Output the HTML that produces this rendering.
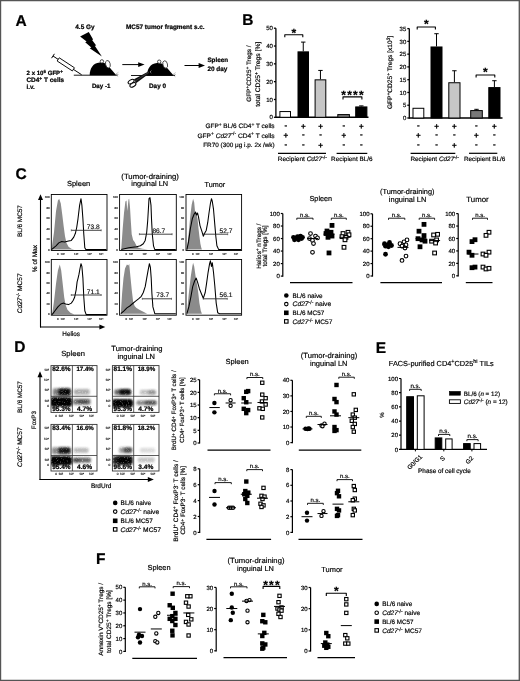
<!DOCTYPE html><html><head><meta charset="utf-8"><style>html,body{margin:0;padding:0;background:#fff;}svg{display:block;filter:blur(0.35px);font-family:"Liberation Sans",Arial,sans-serif;text-rendering:geometricPrecision;}</style></head><body><svg width="520" height="681" viewBox="0 0 520 681">
<defs><filter id="b1" x="-50%" y="-50%" width="200%" height="200%"><feGaussianBlur stdDeviation="1.0"></feGaussianBlur></filter><filter id="grain" x="-10%" y="-10%" width="120%" height="120%" color-interpolation-filters="sRGB"><feTurbulence type="fractalNoise" baseFrequency="0.8" numOctaves="2" seed="4" result="t"></feTurbulence><feColorMatrix in="t" type="matrix" values="0 0 0 0 0  0 0 0 0 0  0 0 0 0 0  1.8 0 0 0 0.22" result="m"></feColorMatrix><feComposite in="SourceGraphic" in2="m" operator="arithmetic" k1="1" k2="0" k3="0" k4="0" result="c"></feComposite><feComponentTransfer in="c"><feFuncA type="gamma" amplitude="1" exponent="0.85" offset="0"></feFuncA></feComponentTransfer></filter></defs>
<rect width="520" height="681" fill="#fff"></rect>
<text x="15.40" y="25.50" font-size="15.5" font-weight="bold" stroke="#000" stroke-width="0.22">A</text>
<text x="75.30" y="29.00" font-size="6.40" font-weight="bold" stroke="#000" stroke-width="0.22" textLength="19.20" lengthAdjust="spacingAndGlyphs">4.5 Gy</text>
<text x="126.00" y="29.00" font-size="6.41" font-weight="bold" stroke="#000" stroke-width="0.22" textLength="78.60" lengthAdjust="spacingAndGlyphs">MC57 tumor fragment s.c.</text>
<polygon points="80.10,36.50 88.80,32.00 93.10,39.60 92.10,39.90 96.20,45.40 94.80,45.70 101.90,56.60 89.70,48.20 91.30,47.40 85.20,42.30 86.60,41.50" fill="#000" stroke="none" stroke-width="0" stroke-linejoin="round"></polygon>
<g transform="translate(53.0 56.0) rotate(33.2)">
<line x1="0.00" y1="-2.60" x2="0.00" y2="2.60" stroke="#000" stroke-width="0.9"></line>
<line x1="0.00" y1="0.00" x2="6.20" y2="0.00" stroke="#000" stroke-width="0.9"></line>
<rect x="6.20" y="-1.90" width="18.20" height="3.80" fill="#fff" stroke="#000" stroke-width="0.85"></rect>
<line x1="24.40" y1="0.00" x2="34.20" y2="0.00" stroke="#000" stroke-width="0.9"></line>
</g>
<line x1="73.80" y1="75.20" x2="117.60" y2="75.20" stroke="#000" stroke-width="0.9"></line>
<path d="M89.70,75.20 C89.70,69.20 92.70,63.00 99.70,62.60 C103.70,62.40 106.20,63.60 107.70,65.20 L116.30,75.20 Z" fill="#000"></path>
<circle cx="101.90" cy="61.40" r="1.7" fill="#fff" stroke="#222" stroke-width="0.8"></circle>
<ellipse cx="107.90" cy="64.20" rx="2.3" ry="3.8" transform="rotate(-14 107.90 64.20)" fill="#fff" stroke="#333" stroke-width="0.8"></ellipse>
<line x1="115.70" y1="74.20" x2="118.50" y2="72.20" stroke="#777" stroke-width="0.4"></line>
<line x1="115.70" y1="74.40" x2="118.70" y2="74.40" stroke="#777" stroke-width="0.4"></line>
<line x1="115.70" y1="74.60" x2="118.20" y2="76.60" stroke="#777" stroke-width="0.4"></line>
<text x="26.60" y="74.50" font-size="6.11" font-weight="bold" stroke="#000" stroke-width="0.22" textLength="36.20" lengthAdjust="spacingAndGlyphs">2 x 10<tspan dy="-0.42em" font-size="75%">6</tspan><tspan dy="0.315em"> GFP<tspan dy="-0.42em" font-size="75%">+</tspan><tspan dy="0.315em"></tspan></tspan></text>
<text x="26.40" y="82.40" font-size="6.42" font-weight="bold" stroke="#000" stroke-width="0.22" textLength="37.80" lengthAdjust="spacingAndGlyphs">CD4<tspan dy="-0.42em" font-size="75%">+</tspan><tspan dy="0.315em"> T cells</tspan></text>
<text x="26.60" y="89.40" font-size="6.2" font-weight="bold" stroke="#000" stroke-width="0.22">i.v.</text>
<text x="91.90" y="88.40" font-size="6.24" font-weight="bold" stroke="#000" stroke-width="0.22" textLength="18.50" lengthAdjust="spacingAndGlyphs">Day -1</text>
<line x1="122.30" y1="64.60" x2="139.00" y2="64.60" stroke="#000" stroke-width="1.0"></line>
<polygon points="138.20,62.20 144.60,64.60 138.20,67.00" fill="#000" stroke="none" stroke-width="0" stroke-linejoin="round"></polygon>
<line x1="131.00" y1="75.50" x2="175.00" y2="75.50" stroke="#000" stroke-width="0.9"></line>
<path d="M147.00,75.50 C147.00,69.50 150.00,63.30 157.00,62.90 C161.00,62.70 163.50,63.90 165.00,65.50 L173.60,75.50 Z" fill="#000"></path>
<circle cx="159.20" cy="61.70" r="1.7" fill="#fff" stroke="#222" stroke-width="0.8"></circle>
<ellipse cx="165.20" cy="64.50" rx="2.3" ry="3.8" transform="rotate(-14 165.20 64.50)" fill="#fff" stroke="#333" stroke-width="0.8"></ellipse>
<line x1="173.00" y1="74.50" x2="175.80" y2="72.50" stroke="#777" stroke-width="0.4"></line>
<line x1="173.00" y1="74.70" x2="176.00" y2="74.70" stroke="#777" stroke-width="0.4"></line>
<line x1="173.00" y1="74.90" x2="175.50" y2="76.90" stroke="#777" stroke-width="0.4"></line>
<polygon points="134.00,79.20 148.80,71.20 149.20,73.60 136.00,83.20" fill="#111" stroke="none" stroke-width="0" stroke-linejoin="round"></polygon>
<line x1="135.00" y1="81.20" x2="148.60" y2="72.40" stroke="#888" stroke-width="0.35"></line>
<ellipse cx="131.1" cy="81.7" rx="3.3" ry="1.8" transform="rotate(-30 131.1 81.7)" fill="#fff" stroke="#000" stroke-width="1.0"></ellipse>
<ellipse cx="132.9" cy="84.9" rx="3.3" ry="1.8" transform="rotate(-30 132.9 84.9)" fill="#fff" stroke="#000" stroke-width="1.0"></ellipse>
<path d="M151.3,70.6 L150.1,71.9 L151.3,73.0" fill="none" stroke="#ddd" stroke-width="0.6"></path>
<text x="149.00" y="88.00" font-size="6.40" font-weight="bold" stroke="#000" stroke-width="0.22" textLength="17.00" lengthAdjust="spacingAndGlyphs">Day 0</text>
<line x1="184.50" y1="65.50" x2="199.50" y2="65.50" stroke="#000" stroke-width="1.0"></line>
<polygon points="198.60,63.10 205.00,65.50 198.60,67.90" fill="#000" stroke="none" stroke-width="0" stroke-linejoin="round"></polygon>
<text x="207.40" y="62.40" font-size="6.32" font-weight="bold" stroke="#000" stroke-width="0.22" textLength="20.60" lengthAdjust="spacingAndGlyphs">Spleen</text>
<text x="207.40" y="70.60" font-size="6.42" font-weight="bold" stroke="#000" stroke-width="0.22" textLength="20.00" lengthAdjust="spacingAndGlyphs">20 day</text>
<text x="242.30" y="25.40" font-size="15.5" font-weight="bold" stroke="#000" stroke-width="0.22">B</text>
<line x1="275.90" y1="28.20" x2="275.90" y2="117.95" stroke="#000" stroke-width="1.3"></line>
<line x1="273.90" y1="117.30" x2="275.90" y2="117.30" stroke="#000" stroke-width="1.3"></line>
<text x="272.90" y="119.46" font-size="6.0" text-anchor="end" stroke="#000" stroke-width="0.18">0</text>
<line x1="273.90" y1="99.48" x2="275.90" y2="99.48" stroke="#000" stroke-width="1.3"></line>
<text x="272.90" y="101.64" font-size="6.0" text-anchor="end" stroke="#000" stroke-width="0.18">10</text>
<line x1="273.90" y1="81.66" x2="275.90" y2="81.66" stroke="#000" stroke-width="1.3"></line>
<text x="272.90" y="83.82" font-size="6.0" text-anchor="end" stroke="#000" stroke-width="0.18">20</text>
<line x1="273.90" y1="63.84" x2="275.90" y2="63.84" stroke="#000" stroke-width="1.3"></line>
<text x="272.90" y="66.00" font-size="6.0" text-anchor="end" stroke="#000" stroke-width="0.18">30</text>
<line x1="273.90" y1="46.02" x2="275.90" y2="46.02" stroke="#000" stroke-width="1.3"></line>
<text x="272.90" y="48.18" font-size="6.0" text-anchor="end" stroke="#000" stroke-width="0.18">40</text>
<line x1="273.90" y1="28.20" x2="275.90" y2="28.20" stroke="#000" stroke-width="1.3"></line>
<text x="272.90" y="30.36" font-size="6.0" text-anchor="end" stroke="#000" stroke-width="0.18">50</text>
<line x1="275.90" y1="117.30" x2="368.50" y2="117.30" stroke="#000" stroke-width="1.4"></line>
<rect x="279.90" y="111.56" width="10.60" height="5.74" fill="#fff" stroke="#000" stroke-width="1.0"></rect>
<line x1="303.25" y1="42.10" x2="303.25" y2="51.37" stroke="#000" stroke-width="1.0"></line>
<line x1="301.05" y1="42.10" x2="305.45" y2="42.10" stroke="#000" stroke-width="1.0"></line>
<rect x="298.00" y="51.87" width="10.50" height="65.43" fill="#000" stroke="#000" stroke-width="1.0"></rect>
<line x1="320.45" y1="70.43" x2="320.45" y2="79.34" stroke="#000" stroke-width="1.0"></line>
<line x1="318.25" y1="70.43" x2="322.65" y2="70.43" stroke="#000" stroke-width="1.0"></line>
<rect x="315.10" y="79.84" width="10.70" height="37.46" fill="#c6c6c6" stroke="#000" stroke-width="1.0"></rect>
<rect x="337.80" y="114.59" width="11.60" height="2.71" fill="#767676" stroke="#000" stroke-width="1.0"></rect>
<line x1="361.30" y1="105.90" x2="361.30" y2="106.43" stroke="#000" stroke-width="1.0"></line>
<line x1="359.10" y1="105.90" x2="363.50" y2="105.90" stroke="#000" stroke-width="1.0"></line>
<rect x="355.70" y="106.93" width="11.20" height="10.37" fill="#000" stroke="#000" stroke-width="1.0"></rect>
<polyline points="284.80,37.30 284.80,34.70 302.80,34.70 302.80,37.30" fill="none" stroke="#000" stroke-width="1.1" stroke-linejoin="round"></polyline>
<text x="293.80" y="36.80" font-size="12.0" font-weight="bold" text-anchor="middle" stroke="#000" stroke-width="0.22">*</text>
<polyline points="343.00,99.50 343.00,96.90 361.90,96.90 361.90,99.50" fill="none" stroke="#000" stroke-width="1.1" stroke-linejoin="round"></polyline>
<text x="343.60" y="98.50" font-size="12.0" font-weight="bold" text-anchor="middle" stroke="#000" stroke-width="0.22">*</text>
<text x="349.50" y="98.50" font-size="12.0" font-weight="bold" text-anchor="middle" stroke="#000" stroke-width="0.22">*</text>
<text x="355.40" y="98.50" font-size="12.0" font-weight="bold" text-anchor="middle" stroke="#000" stroke-width="0.22">*</text>
<text x="361.30" y="98.50" font-size="12.0" font-weight="bold" text-anchor="middle" stroke="#000" stroke-width="0.22">*</text>
<text x="251.00" y="73.60" font-size="6.28" text-anchor="middle" stroke="#000" stroke-width="0.18" textLength="56.30" lengthAdjust="spacingAndGlyphs" transform="rotate(-90 251.00 73.60)">GFP<tspan dy="-0.42em" font-size="75%">+</tspan><tspan dy="0.315em">CD25<tspan dy="-0.42em" font-size="75%">+</tspan><tspan dy="0.315em"> Tregs /</tspan></tspan></text>
<text x="259.70" y="74.30" font-size="6.54" text-anchor="middle" stroke="#000" stroke-width="0.18" textLength="65.10" lengthAdjust="spacingAndGlyphs" transform="rotate(-90 259.70 74.30)">total CD25<tspan dy="-0.42em" font-size="75%">+</tspan><tspan dy="0.315em"> Tregs [%]</tspan></text>
<text x="285.80" y="128.40" font-size="8.0" font-weight="bold" text-anchor="middle" stroke="#000" stroke-width="0.22">-</text>
<text x="303.30" y="128.95" font-size="8.0" font-weight="bold" text-anchor="middle" stroke="#000" stroke-width="0.22">+</text>
<text x="320.60" y="128.95" font-size="8.0" font-weight="bold" text-anchor="middle" stroke="#000" stroke-width="0.22">+</text>
<text x="343.80" y="128.40" font-size="8.0" font-weight="bold" text-anchor="middle" stroke="#000" stroke-width="0.22">-</text>
<text x="361.30" y="128.95" font-size="8.0" font-weight="bold" text-anchor="middle" stroke="#000" stroke-width="0.22">+</text>
<text x="285.80" y="137.95" font-size="8.0" font-weight="bold" text-anchor="middle" stroke="#000" stroke-width="0.22">+</text>
<text x="303.30" y="137.40" font-size="8.0" font-weight="bold" text-anchor="middle" stroke="#000" stroke-width="0.22">-</text>
<text x="320.60" y="137.40" font-size="8.0" font-weight="bold" text-anchor="middle" stroke="#000" stroke-width="0.22">-</text>
<text x="343.80" y="137.95" font-size="8.0" font-weight="bold" text-anchor="middle" stroke="#000" stroke-width="0.22">+</text>
<text x="361.30" y="137.40" font-size="8.0" font-weight="bold" text-anchor="middle" stroke="#000" stroke-width="0.22">-</text>
<text x="285.80" y="147.00" font-size="8.0" font-weight="bold" text-anchor="middle" stroke="#000" stroke-width="0.22">-</text>
<text x="303.30" y="147.00" font-size="8.0" font-weight="bold" text-anchor="middle" stroke="#000" stroke-width="0.22">-</text>
<text x="320.60" y="147.55" font-size="8.0" font-weight="bold" text-anchor="middle" stroke="#000" stroke-width="0.22">+</text>
<text x="343.80" y="147.00" font-size="8.0" font-weight="bold" text-anchor="middle" stroke="#000" stroke-width="0.22">-</text>
<text x="361.30" y="147.00" font-size="8.0" font-weight="bold" text-anchor="middle" stroke="#000" stroke-width="0.22">-</text>
<text x="274.60" y="128.00" font-size="6.35" text-anchor="end" stroke="#000" stroke-width="0.18" textLength="69.20" lengthAdjust="spacingAndGlyphs">GFP<tspan dy="-0.42em" font-size="75%">+</tspan><tspan dy="0.315em"> BL/6 CD4<tspan dy="-0.42em" font-size="75%">+</tspan><tspan dy="0.315em"> T cells</tspan></tspan></text>
<text x="274.60" y="137.50" font-size="6.43" text-anchor="end" stroke="#000" stroke-width="0.18" textLength="77.20" lengthAdjust="spacingAndGlyphs">GFP<tspan dy="-0.42em" font-size="75%">+</tspan><tspan dy="0.315em"> <tspan font-style="italic">Cd27</tspan><tspan dy="-0.42em" font-size="75%">-/-</tspan><tspan dy="0.315em"> CD4<tspan dy="-0.42em" font-size="75%">+</tspan><tspan dy="0.315em"> T cells</tspan></tspan></tspan></text>
<text x="274.60" y="147.00" font-size="6.28" text-anchor="end" stroke="#000" stroke-width="0.18" textLength="71.40" lengthAdjust="spacingAndGlyphs">FR70 (300 μg i.p. 2x /wk)</text>
<line x1="278.00" y1="153.40" x2="326.00" y2="153.40" stroke="#000" stroke-width="1.2"></line>
<line x1="336.60" y1="153.40" x2="367.30" y2="153.40" stroke="#000" stroke-width="1.2"></line>
<text x="277.80" y="160.90" font-size="6.37" stroke="#000" stroke-width="0.18" textLength="49.00" lengthAdjust="spacingAndGlyphs">Recipient <tspan font-style="italic">Cd27</tspan><tspan dy="-0.42em" font-size="75%">-/-</tspan><tspan dy="0.315em"></tspan></text>
<text x="331.10" y="160.90" font-size="6.28" stroke="#000" stroke-width="0.18" textLength="41.50" lengthAdjust="spacingAndGlyphs">Recipient BL/6</text>
<line x1="409.30" y1="28.60" x2="409.30" y2="118.65" stroke="#000" stroke-width="1.3"></line>
<line x1="407.30" y1="118.00" x2="409.30" y2="118.00" stroke="#000" stroke-width="1.3"></line>
<text x="406.30" y="120.16" font-size="6.0" text-anchor="end" stroke="#000" stroke-width="0.18">0</text>
<line x1="407.30" y1="105.23" x2="409.30" y2="105.23" stroke="#000" stroke-width="1.3"></line>
<text x="406.30" y="107.39" font-size="6.0" text-anchor="end" stroke="#000" stroke-width="0.18">5</text>
<line x1="407.30" y1="92.46" x2="409.30" y2="92.46" stroke="#000" stroke-width="1.3"></line>
<text x="406.30" y="94.62" font-size="6.0" text-anchor="end" stroke="#000" stroke-width="0.18">10</text>
<line x1="407.30" y1="79.69" x2="409.30" y2="79.69" stroke="#000" stroke-width="1.3"></line>
<text x="406.30" y="81.85" font-size="6.0" text-anchor="end" stroke="#000" stroke-width="0.18">15</text>
<line x1="407.30" y1="66.91" x2="409.30" y2="66.91" stroke="#000" stroke-width="1.3"></line>
<text x="406.30" y="69.07" font-size="6.0" text-anchor="end" stroke="#000" stroke-width="0.18">20</text>
<line x1="407.30" y1="54.14" x2="409.30" y2="54.14" stroke="#000" stroke-width="1.3"></line>
<text x="406.30" y="56.30" font-size="6.0" text-anchor="end" stroke="#000" stroke-width="0.18">25</text>
<line x1="407.30" y1="41.37" x2="409.30" y2="41.37" stroke="#000" stroke-width="1.3"></line>
<text x="406.30" y="43.53" font-size="6.0" text-anchor="end" stroke="#000" stroke-width="0.18">30</text>
<line x1="407.30" y1="28.60" x2="409.30" y2="28.60" stroke="#000" stroke-width="1.3"></line>
<text x="406.30" y="30.76" font-size="6.0" text-anchor="end" stroke="#000" stroke-width="0.18">35</text>
<line x1="409.30" y1="118.00" x2="502.50" y2="118.00" stroke="#000" stroke-width="1.4"></line>
<rect x="413.00" y="108.28" width="10.80" height="9.72" fill="#fff" stroke="#000" stroke-width="1.0"></rect>
<line x1="436.50" y1="33.71" x2="436.50" y2="46.48" stroke="#000" stroke-width="1.0"></line>
<line x1="434.30" y1="33.71" x2="438.70" y2="33.71" stroke="#000" stroke-width="1.0"></line>
<rect x="431.00" y="46.98" width="11.00" height="71.02" fill="#000" stroke="#000" stroke-width="1.0"></rect>
<line x1="454.40" y1="70.75" x2="454.40" y2="82.24" stroke="#000" stroke-width="1.0"></line>
<line x1="452.20" y1="70.75" x2="456.60" y2="70.75" stroke="#000" stroke-width="1.0"></line>
<rect x="448.80" y="82.74" width="11.20" height="35.26" fill="#c6c6c6" stroke="#000" stroke-width="1.0"></rect>
<line x1="476.50" y1="109.32" x2="476.50" y2="110.08" stroke="#000" stroke-width="1.0"></line>
<line x1="474.30" y1="109.32" x2="478.70" y2="109.32" stroke="#000" stroke-width="1.0"></line>
<rect x="470.70" y="110.58" width="11.60" height="7.42" fill="#787878" stroke="#000" stroke-width="1.0"></rect>
<line x1="494.40" y1="80.71" x2="494.40" y2="87.09" stroke="#000" stroke-width="1.0"></line>
<line x1="492.20" y1="80.71" x2="496.60" y2="80.71" stroke="#000" stroke-width="1.0"></line>
<rect x="488.80" y="87.59" width="11.20" height="30.41" fill="#000" stroke="#000" stroke-width="1.0"></rect>
<polyline points="417.20,29.60 417.20,27.00 435.40,27.00 435.40,29.60" fill="none" stroke="#000" stroke-width="1.1" stroke-linejoin="round"></polyline>
<text x="426.30" y="28.40" font-size="12.0" font-weight="bold" text-anchor="middle" stroke="#000" stroke-width="0.22">*</text>
<polyline points="476.10,77.60 476.10,75.00 494.80,75.00 494.80,77.60" fill="none" stroke="#000" stroke-width="1.1" stroke-linejoin="round"></polyline>
<text x="485.45" y="76.40" font-size="12.0" font-weight="bold" text-anchor="middle" stroke="#000" stroke-width="0.22">*</text>
<text x="392.50" y="72.40" font-size="6.43" text-anchor="middle" stroke="#000" stroke-width="0.18" textLength="73.30" lengthAdjust="spacingAndGlyphs" transform="rotate(-90 392.50 72.40)">GFP<tspan dy="-0.42em" font-size="75%">+</tspan><tspan dy="0.315em">CD25<tspan dy="-0.42em" font-size="75%">+</tspan><tspan dy="0.315em"> Tregs [x10<tspan dy="-0.42em" font-size="75%">3</tspan><tspan dy="0.315em">]</tspan></tspan></tspan></text>
<text x="418.40" y="128.40" font-size="8.0" font-weight="bold" text-anchor="middle" stroke="#000" stroke-width="0.22">-</text>
<text x="436.50" y="128.95" font-size="8.0" font-weight="bold" text-anchor="middle" stroke="#000" stroke-width="0.22">+</text>
<text x="454.40" y="128.95" font-size="8.0" font-weight="bold" text-anchor="middle" stroke="#000" stroke-width="0.22">+</text>
<text x="476.30" y="128.40" font-size="8.0" font-weight="bold" text-anchor="middle" stroke="#000" stroke-width="0.22">-</text>
<text x="494.40" y="128.95" font-size="8.0" font-weight="bold" text-anchor="middle" stroke="#000" stroke-width="0.22">+</text>
<text x="418.40" y="137.95" font-size="8.0" font-weight="bold" text-anchor="middle" stroke="#000" stroke-width="0.22">+</text>
<text x="436.50" y="137.40" font-size="8.0" font-weight="bold" text-anchor="middle" stroke="#000" stroke-width="0.22">-</text>
<text x="454.40" y="137.40" font-size="8.0" font-weight="bold" text-anchor="middle" stroke="#000" stroke-width="0.22">-</text>
<text x="476.30" y="137.95" font-size="8.0" font-weight="bold" text-anchor="middle" stroke="#000" stroke-width="0.22">+</text>
<text x="494.40" y="137.40" font-size="8.0" font-weight="bold" text-anchor="middle" stroke="#000" stroke-width="0.22">-</text>
<text x="418.40" y="147.00" font-size="8.0" font-weight="bold" text-anchor="middle" stroke="#000" stroke-width="0.22">-</text>
<text x="436.50" y="147.00" font-size="8.0" font-weight="bold" text-anchor="middle" stroke="#000" stroke-width="0.22">-</text>
<text x="454.40" y="147.55" font-size="8.0" font-weight="bold" text-anchor="middle" stroke="#000" stroke-width="0.22">+</text>
<text x="476.30" y="147.00" font-size="8.0" font-weight="bold" text-anchor="middle" stroke="#000" stroke-width="0.22">-</text>
<text x="494.40" y="147.00" font-size="8.0" font-weight="bold" text-anchor="middle" stroke="#000" stroke-width="0.22">-</text>
<line x1="410.60" y1="153.30" x2="455.30" y2="153.30" stroke="#000" stroke-width="1.2"></line>
<line x1="469.00" y1="153.30" x2="497.30" y2="153.30" stroke="#000" stroke-width="1.2"></line>
<text x="410.40" y="161.00" font-size="6.31" stroke="#000" stroke-width="0.18" textLength="48.40" lengthAdjust="spacingAndGlyphs">Recipient <tspan font-style="italic">Cd27</tspan><tspan dy="-0.42em" font-size="75%">-/-</tspan><tspan dy="0.315em"></tspan></text>
<text x="464.00" y="161.00" font-size="6.26" stroke="#000" stroke-width="0.18" textLength="41.30" lengthAdjust="spacingAndGlyphs">Recipient BL/6</text>
<text x="15.50" y="178.60" font-size="15.5" font-weight="bold" stroke="#000" stroke-width="0.22">C</text>
<text x="67.00" y="186.00" font-size="7.39" stroke="#000" stroke-width="0.18" textLength="23.20" lengthAdjust="spacingAndGlyphs">Spleen</text>
<text x="121.30" y="179.20" font-size="7.64" stroke="#000" stroke-width="0.18" textLength="57.60" lengthAdjust="spacingAndGlyphs">(Tumor-draining)</text>
<text x="131.30" y="186.40" font-size="7.32" stroke="#000" stroke-width="0.18" textLength="36.80" lengthAdjust="spacingAndGlyphs">inguinal LN</text>
<text x="204.50" y="186.80" font-size="7.23" stroke="#000" stroke-width="0.18" textLength="20.60" lengthAdjust="spacingAndGlyphs">Tumor</text>
<line x1="40.50" y1="198.50" x2="40.50" y2="327.50" stroke="#000" stroke-width="1.1"></line>
<polygon points="38.00,200.00 40.50,194.20 43.00,200.00" fill="#000" stroke="none" stroke-width="0" stroke-linejoin="round"></polygon>
<line x1="40.00" y1="327.00" x2="100.00" y2="327.00" stroke="#000" stroke-width="1.1"></line>
<polygon points="99.40,324.50 105.30,327.00 99.40,329.50" fill="#000" stroke="none" stroke-width="0" stroke-linejoin="round"></polygon>
<text x="37.00" y="258.60" font-size="6.57" text-anchor="middle" stroke="#000" stroke-width="0.18" textLength="27.30" lengthAdjust="spacingAndGlyphs" transform="rotate(-90 37.00 258.60)">% of Max</text>
<text x="62.30" y="335.50" font-size="6.43" stroke="#000" stroke-width="0.18" textLength="17.70" lengthAdjust="spacingAndGlyphs">Helios</text>
<text x="21.90" y="221.10" font-size="6.45" text-anchor="middle" stroke="#000" stroke-width="0.18" textLength="32.00" lengthAdjust="spacingAndGlyphs" transform="rotate(-90 21.90 221.10)">BL/6 MC57</text>
<text x="21.90" y="293.30" font-size="6.59" text-anchor="middle" stroke="#000" stroke-width="0.18" textLength="39.80" lengthAdjust="spacingAndGlyphs" transform="rotate(-90 21.90 293.30)"><tspan font-style="italic">Cd27</tspan><tspan dy="-0.42em" font-size="75%">-/-</tspan><tspan dy="0.315em"> MC57</tspan></text>
<polygon points="51.50,249.60 54.00,232.30 56.00,211.20 57.90,200.60 59.20,198.70 60.80,203.50 62.30,215.00 63.70,226.50 65.00,236.20 66.50,242.90 68.50,246.70 71.30,248.70 74.20,249.60" fill="#8b8b8b" stroke="none" stroke-width="0" stroke-linejoin="round"></polygon>
<polyline points="51.50,249.60 56.00,245.80 58.80,242.90 61.70,241.50 64.60,241.90 68.50,241.00 71.30,240.40 73.80,237.10 75.40,233.30 76.70,227.50 78.00,218.80 79.60,205.40 81.00,198.70 81.90,205.40 82.90,218.80 83.80,234.20 84.80,247.70 85.80,249.60 106.50,249.60" fill="none" stroke="#000" stroke-width="1.05" stroke-linejoin="round"></polyline>
<rect x="51.30" y="194.50" width="55.70" height="56.00" fill="none" stroke="#000" stroke-width="0.9"></rect>
<line x1="71.30" y1="230.30" x2="101.20" y2="230.30" stroke="#222" stroke-width="0.85"></line>
<line x1="71.30" y1="229.30" x2="71.30" y2="231.30" stroke="#333" stroke-width="0.6"></line>
<line x1="101.20" y1="229.30" x2="101.20" y2="231.30" stroke="#333" stroke-width="0.6"></line>
<text x="86.80" y="228.90" font-size="6.6" fill="#111" stroke="#111" stroke-width="0.18">73.8</text>
<text x="49.60" y="198.30" font-size="2.9" text-anchor="end" fill="#333" stroke="#333" stroke-width="0.18">100</text>
<text x="49.60" y="208.74" font-size="2.9" text-anchor="end" fill="#333" stroke="#333" stroke-width="0.18">80</text>
<text x="49.60" y="219.18" font-size="2.9" text-anchor="end" fill="#333" stroke="#333" stroke-width="0.18">60</text>
<text x="49.60" y="229.62" font-size="2.9" text-anchor="end" fill="#333" stroke="#333" stroke-width="0.18">40</text>
<text x="49.60" y="240.06" font-size="2.9" text-anchor="end" fill="#333" stroke="#333" stroke-width="0.18">20</text>
<text x="49.60" y="250.50" font-size="2.9" text-anchor="end" fill="#333" stroke="#333" stroke-width="0.18">0</text>
<text x="57.90" y="255.10" font-size="2.9" text-anchor="middle" fill="#333" stroke="#333" stroke-width="0.18">0</text>
<text x="62.70" y="255.10" font-size="2.9" text-anchor="middle" fill="#333" stroke="#333" stroke-width="0.18">10²</text>
<text x="76.20" y="255.10" font-size="2.9" text-anchor="middle" fill="#333" stroke="#333" stroke-width="0.18">10³</text>
<text x="89.60" y="255.10" font-size="2.9" text-anchor="middle" fill="#333" stroke="#333" stroke-width="0.18">10⁴</text>
<text x="101.20" y="255.10" font-size="2.9" text-anchor="middle" fill="#333" stroke="#333" stroke-width="0.18">10⁵</text>
<polygon points="52.10,314.60 54.00,301.20 56.00,283.80 57.90,270.40 59.80,264.60 61.20,270.40 62.70,283.80 64.20,297.30 65.60,305.00 67.50,309.80 70.40,312.70 74.20,314.60" fill="#8b8b8b" stroke="none" stroke-width="0" stroke-linejoin="round"></polygon>
<polyline points="52.10,314.60 55.00,310.80 57.90,306.90 60.80,304.00 63.70,303.10 65.60,304.00 68.50,304.60 71.30,303.10 73.30,300.20 74.60,297.30 76.20,289.60 77.10,281.90 78.10,278.10 79.00,274.20 80.00,268.50 81.00,263.70 81.90,266.50 82.90,278.10 83.80,297.30 84.80,310.80 86.20,314.60 106.50,314.60" fill="none" stroke="#000" stroke-width="1.05" stroke-linejoin="round"></polyline>
<rect x="51.30" y="259.50" width="55.70" height="55.70" fill="none" stroke="#000" stroke-width="0.9"></rect>
<line x1="71.30" y1="295.00" x2="101.20" y2="295.00" stroke="#222" stroke-width="0.85"></line>
<line x1="71.30" y1="294.00" x2="71.30" y2="296.00" stroke="#333" stroke-width="0.6"></line>
<line x1="101.20" y1="294.00" x2="101.20" y2="296.00" stroke="#333" stroke-width="0.6"></line>
<text x="86.80" y="293.60" font-size="6.6" fill="#111" stroke="#111" stroke-width="0.18">71.1</text>
<text x="49.60" y="263.30" font-size="2.9" text-anchor="end" fill="#333" stroke="#333" stroke-width="0.18">100</text>
<text x="49.60" y="273.68" font-size="2.9" text-anchor="end" fill="#333" stroke="#333" stroke-width="0.18">80</text>
<text x="49.60" y="284.06" font-size="2.9" text-anchor="end" fill="#333" stroke="#333" stroke-width="0.18">60</text>
<text x="49.60" y="294.44" font-size="2.9" text-anchor="end" fill="#333" stroke="#333" stroke-width="0.18">40</text>
<text x="49.60" y="304.82" font-size="2.9" text-anchor="end" fill="#333" stroke="#333" stroke-width="0.18">20</text>
<text x="49.60" y="315.20" font-size="2.9" text-anchor="end" fill="#333" stroke="#333" stroke-width="0.18">0</text>
<text x="57.90" y="319.80" font-size="2.9" text-anchor="middle" fill="#333" stroke="#333" stroke-width="0.18">0</text>
<text x="62.70" y="319.80" font-size="2.9" text-anchor="middle" fill="#333" stroke="#333" stroke-width="0.18">10²</text>
<text x="76.20" y="319.80" font-size="2.9" text-anchor="middle" fill="#333" stroke="#333" stroke-width="0.18">10³</text>
<text x="89.60" y="319.80" font-size="2.9" text-anchor="middle" fill="#333" stroke="#333" stroke-width="0.18">10⁴</text>
<text x="101.20" y="319.80" font-size="2.9" text-anchor="middle" fill="#333" stroke="#333" stroke-width="0.18">10⁵</text>
<polygon points="121.20,249.60 122.70,228.50 124.00,213.00 125.40,201.50 126.50,200.60 127.30,211.00 128.50,199.60 129.20,198.70 130.00,207.30 130.80,220.80 131.70,234.20 133.10,240.00 134.60,241.90 136.50,245.80 138.50,247.70 142.30,248.70 148.00,249.60" fill="#8b8b8b" stroke="none" stroke-width="0" stroke-linejoin="round"></polygon>
<polyline points="121.20,249.60 128.80,247.70 136.50,246.70 140.40,245.80 143.30,243.80 145.20,240.40 146.70,232.30 147.70,220.80 148.50,207.30 149.00,198.70 150.00,197.70 151.00,205.40 151.50,218.80 152.30,234.20 153.50,245.80 154.80,249.60 175.80,249.60" fill="none" stroke="#000" stroke-width="1.05" stroke-linejoin="round"></polyline>
<rect x="119.60" y="194.50" width="56.70" height="56.00" fill="none" stroke="#000" stroke-width="0.9"></rect>
<line x1="139.40" y1="234.20" x2="172.10" y2="234.20" stroke="#222" stroke-width="0.85"></line>
<line x1="139.40" y1="233.20" x2="139.40" y2="235.20" stroke="#333" stroke-width="0.6"></line>
<line x1="172.10" y1="233.20" x2="172.10" y2="235.20" stroke="#333" stroke-width="0.6"></line>
<text x="152.40" y="232.70" font-size="6.6" fill="#111" stroke="#111" stroke-width="0.18">86.7</text>
<text x="117.80" y="198.30" font-size="2.9" text-anchor="end" fill="#333" stroke="#333" stroke-width="0.18">100</text>
<text x="117.80" y="208.74" font-size="2.9" text-anchor="end" fill="#333" stroke="#333" stroke-width="0.18">80</text>
<text x="117.80" y="219.18" font-size="2.9" text-anchor="end" fill="#333" stroke="#333" stroke-width="0.18">60</text>
<text x="117.80" y="229.62" font-size="2.9" text-anchor="end" fill="#333" stroke="#333" stroke-width="0.18">40</text>
<text x="117.80" y="240.06" font-size="2.9" text-anchor="end" fill="#333" stroke="#333" stroke-width="0.18">20</text>
<text x="117.80" y="250.50" font-size="2.9" text-anchor="end" fill="#333" stroke="#333" stroke-width="0.18">0</text>
<text x="126.20" y="255.10" font-size="2.9" text-anchor="middle" fill="#333" stroke="#333" stroke-width="0.18">0</text>
<text x="131.00" y="255.10" font-size="2.9" text-anchor="middle" fill="#333" stroke="#333" stroke-width="0.18">10²</text>
<text x="144.50" y="255.10" font-size="2.9" text-anchor="middle" fill="#333" stroke="#333" stroke-width="0.18">10³</text>
<text x="157.90" y="255.10" font-size="2.9" text-anchor="middle" fill="#333" stroke="#333" stroke-width="0.18">10⁴</text>
<text x="169.50" y="255.10" font-size="2.9" text-anchor="middle" fill="#333" stroke="#333" stroke-width="0.18">10⁵</text>
<polygon points="120.80,313.70 122.10,293.50 123.50,278.10 125.00,268.50 126.90,264.60 128.50,265.60 129.20,263.70 130.40,276.20 131.70,289.60 133.10,301.20 134.60,306.00 136.50,307.90 139.40,309.80 143.30,311.70 147.10,313.70" fill="#8b8b8b" stroke="none" stroke-width="0" stroke-linejoin="round"></polygon>
<polyline points="120.80,313.70 124.00,310.80 126.90,307.90 129.80,306.00 132.70,303.50 135.60,301.20 138.50,298.80 141.30,296.30 143.30,292.50 145.20,286.70 146.70,278.10 148.10,270.40 149.40,263.70 150.40,267.50 151.20,278.10 151.90,293.50 152.90,306.90 154.80,313.70 175.80,313.70" fill="none" stroke="#000" stroke-width="1.05" stroke-linejoin="round"></polyline>
<rect x="119.60" y="259.50" width="56.70" height="55.70" fill="none" stroke="#000" stroke-width="0.9"></rect>
<line x1="142.30" y1="298.80" x2="171.50" y2="298.80" stroke="#222" stroke-width="0.85"></line>
<line x1="142.30" y1="297.80" x2="142.30" y2="299.80" stroke="#333" stroke-width="0.6"></line>
<line x1="171.50" y1="297.80" x2="171.50" y2="299.80" stroke="#333" stroke-width="0.6"></line>
<text x="156.30" y="297.20" font-size="6.6" fill="#111" stroke="#111" stroke-width="0.18">73.7</text>
<text x="117.80" y="263.30" font-size="2.9" text-anchor="end" fill="#333" stroke="#333" stroke-width="0.18">100</text>
<text x="117.80" y="273.68" font-size="2.9" text-anchor="end" fill="#333" stroke="#333" stroke-width="0.18">80</text>
<text x="117.80" y="284.06" font-size="2.9" text-anchor="end" fill="#333" stroke="#333" stroke-width="0.18">60</text>
<text x="117.80" y="294.44" font-size="2.9" text-anchor="end" fill="#333" stroke="#333" stroke-width="0.18">40</text>
<text x="117.80" y="304.82" font-size="2.9" text-anchor="end" fill="#333" stroke="#333" stroke-width="0.18">20</text>
<text x="117.80" y="315.20" font-size="2.9" text-anchor="end" fill="#333" stroke="#333" stroke-width="0.18">0</text>
<text x="126.20" y="319.80" font-size="2.9" text-anchor="middle" fill="#333" stroke="#333" stroke-width="0.18">0</text>
<text x="131.00" y="319.80" font-size="2.9" text-anchor="middle" fill="#333" stroke="#333" stroke-width="0.18">10²</text>
<text x="144.50" y="319.80" font-size="2.9" text-anchor="middle" fill="#333" stroke="#333" stroke-width="0.18">10³</text>
<text x="157.90" y="319.80" font-size="2.9" text-anchor="middle" fill="#333" stroke="#333" stroke-width="0.18">10⁴</text>
<text x="169.50" y="319.80" font-size="2.9" text-anchor="middle" fill="#333" stroke="#333" stroke-width="0.18">10⁵</text>
<polygon points="186.90,249.60 188.80,232.30 190.40,215.00 191.70,204.40 193.10,198.70 194.20,202.50 195.00,211.20 196.20,213.00 197.50,218.80 198.50,228.50 199.40,236.20 200.40,243.80 201.30,247.70 201.90,249.60" fill="#8b8b8b" stroke="none" stroke-width="0" stroke-linejoin="round"></polygon>
<polyline points="186.90,249.60 188.50,241.90 190.40,228.50 192.30,218.80 194.20,214.00 195.60,212.10 196.50,215.00 197.50,213.00 198.50,216.90 200.00,225.60 201.90,231.30 203.30,236.20 204.60,233.30 206.20,230.40 207.70,222.70 209.00,213.00 210.40,203.50 211.50,198.70 212.30,201.50 213.50,209.20 214.80,224.60 215.80,236.20 216.90,245.80 218.70,249.60 241.10,249.60" fill="none" stroke="#000" stroke-width="1.05" stroke-linejoin="round"></polyline>
<rect x="186.00" y="194.50" width="55.60" height="56.00" fill="none" stroke="#000" stroke-width="0.9"></rect>
<line x1="203.80" y1="234.20" x2="227.70" y2="234.20" stroke="#222" stroke-width="0.85"></line>
<line x1="203.80" y1="233.20" x2="203.80" y2="235.20" stroke="#333" stroke-width="0.6"></line>
<line x1="227.70" y1="233.20" x2="227.70" y2="235.20" stroke="#333" stroke-width="0.6"></line>
<text x="219.60" y="232.70" font-size="6.6" fill="#111" stroke="#111" stroke-width="0.18">52.7</text>
<text x="184.20" y="198.30" font-size="2.9" text-anchor="end" fill="#333" stroke="#333" stroke-width="0.18">100</text>
<text x="184.20" y="208.74" font-size="2.9" text-anchor="end" fill="#333" stroke="#333" stroke-width="0.18">80</text>
<text x="184.20" y="219.18" font-size="2.9" text-anchor="end" fill="#333" stroke="#333" stroke-width="0.18">60</text>
<text x="184.20" y="229.62" font-size="2.9" text-anchor="end" fill="#333" stroke="#333" stroke-width="0.18">40</text>
<text x="184.20" y="240.06" font-size="2.9" text-anchor="end" fill="#333" stroke="#333" stroke-width="0.18">20</text>
<text x="184.20" y="250.50" font-size="2.9" text-anchor="end" fill="#333" stroke="#333" stroke-width="0.18">0</text>
<text x="192.70" y="255.10" font-size="2.9" text-anchor="middle" fill="#333" stroke="#333" stroke-width="0.18">0</text>
<text x="197.50" y="255.10" font-size="2.9" text-anchor="middle" fill="#333" stroke="#333" stroke-width="0.18">10²</text>
<text x="211.00" y="255.10" font-size="2.9" text-anchor="middle" fill="#333" stroke="#333" stroke-width="0.18">10³</text>
<text x="224.40" y="255.10" font-size="2.9" text-anchor="middle" fill="#333" stroke="#333" stroke-width="0.18">10⁴</text>
<text x="236.00" y="255.10" font-size="2.9" text-anchor="middle" fill="#333" stroke="#333" stroke-width="0.18">10⁵</text>
<polygon points="186.90,313.70 188.80,293.50 190.80,276.20 192.30,266.50 193.10,262.70 194.20,266.50 195.60,276.20 196.90,283.80 198.10,291.50 199.40,303.10 200.80,310.80 201.90,313.70" fill="#8b8b8b" stroke="none" stroke-width="0" stroke-linejoin="round"></polygon>
<polyline points="186.90,313.70 188.80,306.90 190.80,297.30 192.70,286.70 194.60,281.00 196.20,278.10 197.50,281.90 199.40,288.70 201.30,293.50 203.30,298.30 205.20,292.50 206.50,283.80 208.10,272.30 209.60,263.70 210.40,260.80 211.50,266.50 212.30,262.70 213.50,272.30 214.80,285.80 216.20,303.10 217.70,312.70 219.60,313.70 241.10,313.70" fill="none" stroke="#000" stroke-width="1.05" stroke-linejoin="round"></polyline>
<rect x="186.00" y="259.50" width="55.60" height="55.70" fill="none" stroke="#000" stroke-width="0.9"></rect>
<line x1="203.30" y1="298.80" x2="227.30" y2="298.80" stroke="#222" stroke-width="0.85"></line>
<line x1="203.30" y1="297.80" x2="203.30" y2="299.80" stroke="#333" stroke-width="0.6"></line>
<line x1="227.30" y1="297.80" x2="227.30" y2="299.80" stroke="#333" stroke-width="0.6"></line>
<text x="219.60" y="297.20" font-size="6.6" fill="#111" stroke="#111" stroke-width="0.18">56.1</text>
<text x="184.20" y="263.30" font-size="2.9" text-anchor="end" fill="#333" stroke="#333" stroke-width="0.18">100</text>
<text x="184.20" y="273.68" font-size="2.9" text-anchor="end" fill="#333" stroke="#333" stroke-width="0.18">80</text>
<text x="184.20" y="284.06" font-size="2.9" text-anchor="end" fill="#333" stroke="#333" stroke-width="0.18">60</text>
<text x="184.20" y="294.44" font-size="2.9" text-anchor="end" fill="#333" stroke="#333" stroke-width="0.18">40</text>
<text x="184.20" y="304.82" font-size="2.9" text-anchor="end" fill="#333" stroke="#333" stroke-width="0.18">20</text>
<text x="184.20" y="315.20" font-size="2.9" text-anchor="end" fill="#333" stroke="#333" stroke-width="0.18">0</text>
<text x="192.70" y="319.80" font-size="2.9" text-anchor="middle" fill="#333" stroke="#333" stroke-width="0.18">0</text>
<text x="197.50" y="319.80" font-size="2.9" text-anchor="middle" fill="#333" stroke="#333" stroke-width="0.18">10²</text>
<text x="211.00" y="319.80" font-size="2.9" text-anchor="middle" fill="#333" stroke="#333" stroke-width="0.18">10³</text>
<text x="224.40" y="319.80" font-size="2.9" text-anchor="middle" fill="#333" stroke="#333" stroke-width="0.18">10⁴</text>
<text x="236.00" y="319.80" font-size="2.9" text-anchor="middle" fill="#333" stroke="#333" stroke-width="0.18">10⁵</text>
<line x1="282.80" y1="213.50" x2="282.80" y2="276.70" stroke="#000" stroke-width="1.2"></line>
<line x1="280.80" y1="276.10" x2="282.80" y2="276.10" stroke="#000" stroke-width="1.2"></line>
<text x="279.80" y="278.26" font-size="6.0" text-anchor="end" stroke="#000" stroke-width="0.18">0</text>
<line x1="280.80" y1="263.58" x2="282.80" y2="263.58" stroke="#000" stroke-width="1.2"></line>
<text x="279.80" y="265.74" font-size="6.0" text-anchor="end" stroke="#000" stroke-width="0.18">20</text>
<line x1="280.80" y1="251.06" x2="282.80" y2="251.06" stroke="#000" stroke-width="1.2"></line>
<text x="279.80" y="253.22" font-size="6.0" text-anchor="end" stroke="#000" stroke-width="0.18">40</text>
<line x1="280.80" y1="238.54" x2="282.80" y2="238.54" stroke="#000" stroke-width="1.2"></line>
<text x="279.80" y="240.70" font-size="6.0" text-anchor="end" stroke="#000" stroke-width="0.18">60</text>
<line x1="280.80" y1="226.02" x2="282.80" y2="226.02" stroke="#000" stroke-width="1.2"></line>
<text x="279.80" y="228.18" font-size="6.0" text-anchor="end" stroke="#000" stroke-width="0.18">80</text>
<line x1="280.80" y1="213.50" x2="282.80" y2="213.50" stroke="#000" stroke-width="1.2"></line>
<text x="279.80" y="215.66" font-size="6.0" text-anchor="end" stroke="#000" stroke-width="0.18">100</text>
<line x1="290.00" y1="282.60" x2="352.50" y2="282.60" stroke="#000" stroke-width="1.2"></line>
<circle cx="293.50" cy="237.29" r="2.40" fill="#000"></circle>
<circle cx="295.50" cy="238.54" r="2.40" fill="#000"></circle>
<circle cx="297.50" cy="236.66" r="2.40" fill="#000"></circle>
<circle cx="299.50" cy="237.91" r="2.40" fill="#000"></circle>
<circle cx="301.50" cy="238.54" r="2.40" fill="#000"></circle>
<circle cx="294.50" cy="239.79" r="2.40" fill="#000"></circle>
<circle cx="298.50" cy="239.79" r="2.40" fill="#000"></circle>
<circle cx="300.50" cy="236.04" r="2.40" fill="#000"></circle>
<circle cx="302.50" cy="237.29" r="2.40" fill="#000"></circle>
<circle cx="296.50" cy="237.91" r="2.40" fill="#000"></circle>
<line x1="292.00" y1="237.91" x2="303.00" y2="237.91" stroke="#000" stroke-width="1.0"></line>
<circle cx="310.50" cy="233.53" r="1.85" fill="#fff" stroke="#000" stroke-width="1.1"></circle>
<circle cx="315.50" cy="236.04" r="1.85" fill="#fff" stroke="#000" stroke-width="1.1"></circle>
<circle cx="309.50" cy="238.54" r="1.85" fill="#fff" stroke="#000" stroke-width="1.1"></circle>
<circle cx="317.50" cy="237.91" r="1.85" fill="#fff" stroke="#000" stroke-width="1.1"></circle>
<circle cx="312.50" cy="240.42" r="1.85" fill="#fff" stroke="#000" stroke-width="1.1"></circle>
<circle cx="313.50" cy="243.55" r="1.85" fill="#fff" stroke="#000" stroke-width="1.1"></circle>
<circle cx="312.50" cy="252.31" r="1.85" fill="#fff" stroke="#000" stroke-width="1.1"></circle>
<line x1="307.00" y1="238.54" x2="318.00" y2="238.54" stroke="#000" stroke-width="1.0"></line>
<rect x="329.60" y="222.99" width="4.80" height="4.80" fill="#000"></rect>
<rect x="324.60" y="228.63" width="4.80" height="4.80" fill="#000"></rect>
<rect x="328.60" y="229.88" width="4.80" height="4.80" fill="#000"></rect>
<rect x="323.60" y="231.13" width="4.80" height="4.80" fill="#000"></rect>
<rect x="326.60" y="232.38" width="4.80" height="4.80" fill="#000"></rect>
<rect x="329.60" y="233.64" width="4.80" height="4.80" fill="#000"></rect>
<rect x="325.60" y="234.89" width="4.80" height="4.80" fill="#000"></rect>
<rect x="326.60" y="250.54" width="4.80" height="4.80" fill="#000"></rect>
<line x1="323.50" y1="234.16" x2="334.50" y2="234.16" stroke="#000" stroke-width="1.0"></line>
<rect x="346.15" y="230.43" width="3.70" height="3.70" fill="#fff" stroke="#000" stroke-width="1.1"></rect>
<rect x="341.15" y="231.68" width="3.70" height="3.70" fill="#fff" stroke="#000" stroke-width="1.1"></rect>
<rect x="347.15" y="232.93" width="3.70" height="3.70" fill="#fff" stroke="#000" stroke-width="1.1"></rect>
<rect x="340.15" y="234.81" width="3.70" height="3.70" fill="#fff" stroke="#000" stroke-width="1.1"></rect>
<rect x="344.15" y="235.44" width="3.70" height="3.70" fill="#fff" stroke="#000" stroke-width="1.1"></rect>
<rect x="343.15" y="237.94" width="3.70" height="3.70" fill="#fff" stroke="#000" stroke-width="1.1"></rect>
<rect x="342.15" y="245.45" width="3.70" height="3.70" fill="#fff" stroke="#000" stroke-width="1.1"></rect>
<line x1="339.50" y1="237.29" x2="350.50" y2="237.29" stroke="#000" stroke-width="1.0"></line>
<polyline points="296.80,219.80 296.80,218.20 313.00,218.20 313.00,219.80" fill="none" stroke="#000" stroke-width="0.9" stroke-linejoin="round"></polyline>
<text x="304.90" y="217.00" font-size="6.0" text-anchor="middle" stroke="#000" stroke-width="0.18">n.s.</text>
<polyline points="331.30,219.80 331.30,218.20 346.30,218.20 346.30,219.80" fill="none" stroke="#000" stroke-width="0.9" stroke-linejoin="round"></polyline>
<text x="338.80" y="217.00" font-size="6.0" text-anchor="middle" stroke="#000" stroke-width="0.18">n.s.</text>
<text x="261.00" y="246.20" font-size="6.25" text-anchor="middle" stroke="#000" stroke-width="0.18" textLength="45.20" lengthAdjust="spacingAndGlyphs" transform="rotate(-90 261.00 246.20)">Helios<tspan dy="-0.42em" font-size="75%">+</tspan><tspan dy="0.315em"> nTregs /</tspan></text>
<text x="267.20" y="245.90" font-size="6.32" text-anchor="middle" stroke="#000" stroke-width="0.18" textLength="41.10" lengthAdjust="spacingAndGlyphs" transform="rotate(-90 267.20 245.90)">total Tregs [%]</text>
<text x="309.50" y="201.40" font-size="7.25" stroke="#000" stroke-width="0.18" textLength="22.60" lengthAdjust="spacingAndGlyphs">Spleen</text>
<line x1="372.50" y1="213.80" x2="372.50" y2="276.60" stroke="#000" stroke-width="1.2"></line>
<line x1="370.50" y1="276.00" x2="372.50" y2="276.00" stroke="#000" stroke-width="1.2"></line>
<text x="369.50" y="278.16" font-size="6.0" text-anchor="end" stroke="#000" stroke-width="0.18">0</text>
<line x1="370.50" y1="263.56" x2="372.50" y2="263.56" stroke="#000" stroke-width="1.2"></line>
<text x="369.50" y="265.72" font-size="6.0" text-anchor="end" stroke="#000" stroke-width="0.18">20</text>
<line x1="370.50" y1="251.12" x2="372.50" y2="251.12" stroke="#000" stroke-width="1.2"></line>
<text x="369.50" y="253.28" font-size="6.0" text-anchor="end" stroke="#000" stroke-width="0.18">40</text>
<line x1="370.50" y1="238.68" x2="372.50" y2="238.68" stroke="#000" stroke-width="1.2"></line>
<text x="369.50" y="240.84" font-size="6.0" text-anchor="end" stroke="#000" stroke-width="0.18">60</text>
<line x1="370.50" y1="226.24" x2="372.50" y2="226.24" stroke="#000" stroke-width="1.2"></line>
<text x="369.50" y="228.40" font-size="6.0" text-anchor="end" stroke="#000" stroke-width="0.18">80</text>
<line x1="370.50" y1="213.80" x2="372.50" y2="213.80" stroke="#000" stroke-width="1.2"></line>
<text x="369.50" y="215.96" font-size="6.0" text-anchor="end" stroke="#000" stroke-width="0.18">100</text>
<line x1="380.40" y1="282.60" x2="442.00" y2="282.60" stroke="#000" stroke-width="1.2"></line>
<circle cx="389.50" cy="242.41" r="2.40" fill="#000"></circle>
<circle cx="384.50" cy="243.66" r="2.40" fill="#000"></circle>
<circle cx="387.50" cy="244.90" r="2.40" fill="#000"></circle>
<circle cx="391.50" cy="245.52" r="2.40" fill="#000"></circle>
<circle cx="385.50" cy="246.14" r="2.40" fill="#000"></circle>
<circle cx="388.50" cy="246.77" r="2.40" fill="#000"></circle>
<circle cx="385.50" cy="254.23" r="2.40" fill="#000"></circle>
<line x1="382.00" y1="244.90" x2="393.00" y2="244.90" stroke="#000" stroke-width="1.0"></line>
<circle cx="407.00" cy="239.92" r="1.85" fill="#fff" stroke="#000" stroke-width="1.1"></circle>
<circle cx="404.00" cy="241.79" r="1.85" fill="#fff" stroke="#000" stroke-width="1.1"></circle>
<circle cx="400.00" cy="243.66" r="1.85" fill="#fff" stroke="#000" stroke-width="1.1"></circle>
<circle cx="406.00" cy="244.90" r="1.85" fill="#fff" stroke="#000" stroke-width="1.1"></circle>
<circle cx="402.00" cy="246.14" r="1.85" fill="#fff" stroke="#000" stroke-width="1.1"></circle>
<circle cx="405.00" cy="248.01" r="1.85" fill="#fff" stroke="#000" stroke-width="1.1"></circle>
<circle cx="406.00" cy="256.10" r="1.85" fill="#fff" stroke="#000" stroke-width="1.1"></circle>
<circle cx="402.00" cy="260.45" r="1.85" fill="#fff" stroke="#000" stroke-width="1.1"></circle>
<line x1="397.50" y1="247.39" x2="408.50" y2="247.39" stroke="#000" stroke-width="1.0"></line>
<rect x="421.60" y="221.97" width="4.80" height="4.80" fill="#000"></rect>
<rect x="416.60" y="228.82" width="4.80" height="4.80" fill="#000"></rect>
<rect x="421.60" y="233.17" width="4.80" height="4.80" fill="#000"></rect>
<rect x="415.60" y="236.28" width="4.80" height="4.80" fill="#000"></rect>
<rect x="419.60" y="237.52" width="4.80" height="4.80" fill="#000"></rect>
<rect x="422.60" y="238.77" width="4.80" height="4.80" fill="#000"></rect>
<rect x="417.60" y="244.37" width="4.80" height="4.80" fill="#000"></rect>
<line x1="415.50" y1="238.68" x2="426.50" y2="238.68" stroke="#000" stroke-width="1.0"></line>
<rect x="435.75" y="232.48" width="3.70" height="3.70" fill="#fff" stroke="#000" stroke-width="1.1"></rect>
<rect x="431.75" y="233.10" width="3.70" height="3.70" fill="#fff" stroke="#000" stroke-width="1.1"></rect>
<rect x="434.75" y="238.07" width="3.70" height="3.70" fill="#fff" stroke="#000" stroke-width="1.1"></rect>
<rect x="429.75" y="239.32" width="3.70" height="3.70" fill="#fff" stroke="#000" stroke-width="1.1"></rect>
<rect x="433.75" y="241.18" width="3.70" height="3.70" fill="#fff" stroke="#000" stroke-width="1.1"></rect>
<rect x="432.75" y="251.14" width="3.70" height="3.70" fill="#fff" stroke="#000" stroke-width="1.1"></rect>
<line x1="429.10" y1="240.55" x2="440.10" y2="240.55" stroke="#000" stroke-width="1.0"></line>
<polyline points="388.50,219.80 388.50,218.20 404.80,218.20 404.80,219.80" fill="none" stroke="#000" stroke-width="0.9" stroke-linejoin="round"></polyline>
<text x="396.65" y="217.00" font-size="6.0" text-anchor="middle" stroke="#000" stroke-width="0.18">n.s.</text>
<polyline points="419.20,219.80 419.20,218.20 434.60,218.20 434.60,219.80" fill="none" stroke="#000" stroke-width="0.9" stroke-linejoin="round"></polyline>
<text x="426.90" y="217.00" font-size="6.0" text-anchor="middle" stroke="#000" stroke-width="0.18">n.s.</text>
<text x="380.00" y="194.30" font-size="7.32" stroke="#000" stroke-width="0.18" textLength="54.50" lengthAdjust="spacingAndGlyphs">(Tumor-draining)</text>
<text x="388.80" y="201.60" font-size="7.43" stroke="#000" stroke-width="0.18" textLength="37.50" lengthAdjust="spacingAndGlyphs">inguinal LN</text>
<line x1="458.20" y1="213.60" x2="458.20" y2="276.40" stroke="#000" stroke-width="1.2"></line>
<line x1="456.20" y1="275.80" x2="458.20" y2="275.80" stroke="#000" stroke-width="1.2"></line>
<text x="455.20" y="277.96" font-size="6.0" text-anchor="end" stroke="#000" stroke-width="0.18">0</text>
<line x1="456.20" y1="263.36" x2="458.20" y2="263.36" stroke="#000" stroke-width="1.2"></line>
<text x="455.20" y="265.52" font-size="6.0" text-anchor="end" stroke="#000" stroke-width="0.18">20</text>
<line x1="456.20" y1="250.92" x2="458.20" y2="250.92" stroke="#000" stroke-width="1.2"></line>
<text x="455.20" y="253.08" font-size="6.0" text-anchor="end" stroke="#000" stroke-width="0.18">40</text>
<line x1="456.20" y1="238.48" x2="458.20" y2="238.48" stroke="#000" stroke-width="1.2"></line>
<text x="455.20" y="240.64" font-size="6.0" text-anchor="end" stroke="#000" stroke-width="0.18">60</text>
<line x1="456.20" y1="226.04" x2="458.20" y2="226.04" stroke="#000" stroke-width="1.2"></line>
<text x="455.20" y="228.20" font-size="6.0" text-anchor="end" stroke="#000" stroke-width="0.18">80</text>
<line x1="456.20" y1="213.60" x2="458.20" y2="213.60" stroke="#000" stroke-width="1.2"></line>
<text x="455.20" y="215.76" font-size="6.0" text-anchor="end" stroke="#000" stroke-width="0.18">100</text>
<line x1="465.80" y1="282.60" x2="492.50" y2="282.60" stroke="#000" stroke-width="1.2"></line>
<rect x="472.60" y="237.32" width="4.80" height="4.80" fill="#000"></rect>
<rect x="469.60" y="239.19" width="4.80" height="4.80" fill="#000"></rect>
<rect x="466.60" y="249.76" width="4.80" height="4.80" fill="#000"></rect>
<rect x="469.60" y="252.87" width="4.80" height="4.80" fill="#000"></rect>
<rect x="472.60" y="264.69" width="4.80" height="4.80" fill="#000"></rect>
<rect x="469.60" y="265.31" width="4.80" height="4.80" fill="#000"></rect>
<line x1="467.50" y1="254.03" x2="478.50" y2="254.03" stroke="#000" stroke-width="1.0"></line>
<rect x="487.15" y="230.41" width="3.70" height="3.70" fill="#fff" stroke="#000" stroke-width="1.1"></rect>
<rect x="484.15" y="233.52" width="3.70" height="3.70" fill="#fff" stroke="#000" stroke-width="1.1"></rect>
<rect x="487.15" y="250.31" width="3.70" height="3.70" fill="#fff" stroke="#000" stroke-width="1.1"></rect>
<rect x="481.15" y="252.18" width="3.70" height="3.70" fill="#fff" stroke="#000" stroke-width="1.1"></rect>
<rect x="484.15" y="253.42" width="3.70" height="3.70" fill="#fff" stroke="#000" stroke-width="1.1"></rect>
<rect x="481.15" y="265.24" width="3.70" height="3.70" fill="#fff" stroke="#000" stroke-width="1.1"></rect>
<rect x="484.15" y="267.11" width="3.70" height="3.70" fill="#fff" stroke="#000" stroke-width="1.1"></rect>
<rect x="487.15" y="266.49" width="3.70" height="3.70" fill="#fff" stroke="#000" stroke-width="1.1"></rect>
<polyline points="472.50,219.80 472.50,218.20 487.50,218.20 487.50,219.80" fill="none" stroke="#000" stroke-width="0.9" stroke-linejoin="round"></polyline>
<text x="480.00" y="217.00" font-size="6.0" text-anchor="middle" stroke="#000" stroke-width="0.18">n.s.</text>
<text x="466.30" y="201.60" font-size="7.69" stroke="#000" stroke-width="0.18" textLength="22.40" lengthAdjust="spacingAndGlyphs">Tumor</text>
<circle cx="286.30" cy="295.50" r="2.30" fill="#000"></circle>
<text x="292.60" y="297.80" font-size="6.39" stroke="#000" stroke-width="0.18" textLength="30.00" lengthAdjust="spacingAndGlyphs">BL/6 naive</text>
<circle cx="286.30" cy="304.10" r="1.75" fill="#fff" stroke="#000" stroke-width="1.1"></circle>
<text x="292.60" y="306.40" font-size="6.64" stroke="#000" stroke-width="0.18" textLength="38.60" lengthAdjust="spacingAndGlyphs"><tspan font-style="italic">Cd27</tspan><tspan dy="-0.42em" font-size="75%">-/-</tspan><tspan dy="0.315em"> naive</tspan></text>
<rect x="284.00" y="310.50" width="4.60" height="4.60" fill="#000"></rect>
<text x="292.60" y="315.10" font-size="6.36" stroke="#000" stroke-width="0.18" textLength="31.60" lengthAdjust="spacingAndGlyphs">BL/6 MC57</text>
<rect x="284.55" y="319.65" width="3.50" height="3.50" fill="#fff" stroke="#000" stroke-width="1.1"></rect>
<text x="292.60" y="323.70" font-size="6.56" stroke="#000" stroke-width="0.18" textLength="39.80" lengthAdjust="spacingAndGlyphs"><tspan font-style="italic">Cd27</tspan><tspan dy="-0.42em" font-size="75%">-/-</tspan><tspan dy="0.315em"> MC57</tspan></text>
<text x="14.30" y="352.20" font-size="15.5" font-weight="bold" stroke="#000" stroke-width="0.22">D</text>
<text x="61.30" y="356.00" font-size="7.49" stroke="#000" stroke-width="0.18" textLength="23.60" lengthAdjust="spacingAndGlyphs">Spleen</text>
<text x="111.30" y="351.00" font-size="7.50" stroke="#000" stroke-width="0.18" textLength="51.20" lengthAdjust="spacingAndGlyphs">Tumor-draining</text>
<text x="117.50" y="358.80" font-size="7.43" stroke="#000" stroke-width="0.18" textLength="37.50" lengthAdjust="spacingAndGlyphs">inguinal LN</text>
<line x1="40.00" y1="376.00" x2="40.00" y2="480.00" stroke="#000" stroke-width="1.1"></line>
<polygon points="37.50,377.20 40.00,371.20 42.50,377.20" fill="#000" stroke="none" stroke-width="0" stroke-linejoin="round"></polygon>
<line x1="39.50" y1="479.50" x2="148.50" y2="479.50" stroke="#000" stroke-width="1.1"></line>
<polygon points="147.80,477.00 153.80,479.50 147.80,482.00" fill="#000" stroke="none" stroke-width="0" stroke-linejoin="round"></polygon>
<text x="36.50" y="420.10" font-size="6.33" text-anchor="middle" stroke="#000" stroke-width="0.18" textLength="18.20" lengthAdjust="spacingAndGlyphs" transform="rotate(-90 36.50 420.10)">FoxP3</text>
<text x="90.90" y="488.40" font-size="6.46" stroke="#000" stroke-width="0.18" textLength="20.50" lengthAdjust="spacingAndGlyphs">BrdUrd</text>
<text x="21.90" y="397.00" font-size="6.42" text-anchor="middle" stroke="#000" stroke-width="0.18" textLength="31.80" lengthAdjust="spacingAndGlyphs" transform="rotate(-90 21.90 397.00)">BL/6 MC57</text>
<text x="22.10" y="447.20" font-size="6.59" text-anchor="middle" stroke="#000" stroke-width="0.18" textLength="39.80" lengthAdjust="spacingAndGlyphs" transform="rotate(-90 22.10 447.20)"><tspan font-style="italic">Cd27</tspan><tspan dy="-0.42em" font-size="75%">-/-</tspan><tspan dy="0.315em"> MC57</tspan></text>
<g clip-path="url(#clip51_365)"><g filter="url(#grain)">
<rect x="53.00" y="388.60" width="18.00" height="7.20" rx="1.5" fill="#000" fill-opacity="0.45" filter="url(#b1)"></rect>
<rect x="58.50" y="388.80" width="11.70" height="6.40" rx="1.5" fill="#000" fill-opacity="0.95" filter="url(#b1)"></rect>
<rect x="51.20" y="397.40" width="20.00" height="8.80" rx="1.5" fill="#000" fill-opacity="1.0" filter="url(#b1)"></rect>
<rect x="51.20" y="398.20" width="20.30" height="7.20" rx="1.5" fill="#000" fill-opacity="1.0" filter="url(#b1)"></rect>
<rect x="74.00" y="389.20" width="15.50" height="5.20" rx="1.5" fill="#000" fill-opacity="0.28" filter="url(#b1)"></rect>
<rect x="73.20" y="399.00" width="17.20" height="5.40" rx="1.5" fill="#000" fill-opacity="0.5" filter="url(#b1)"></rect>
<rect x="78.00" y="400.00" width="10.00" height="3.60" rx="1.5" fill="#000" fill-opacity="0.35" filter="url(#b1)"></rect>
</g></g>
<clipPath id="clip51_365"><rect x="51.0" y="365.6" width="46.0" height="46.799999999999955"></rect></clipPath>
<rect x="51.00" y="365.60" width="46.00" height="46.80" fill="none" stroke="#333" stroke-width="0.9"></rect>
<line x1="72.40" y1="365.60" x2="72.40" y2="412.40" stroke="#333" stroke-width="0.8"></line>
<line x1="51.00" y1="396.30" x2="97.00" y2="396.30" stroke="#333" stroke-width="0.8"></line>
<text x="52.20" y="371.20" font-size="6.47" font-weight="bold" stroke="#000" stroke-width="0.22" textLength="18.40" lengthAdjust="spacingAndGlyphs">82.6%</text>
<text x="76.40" y="371.20" font-size="6.21" font-weight="bold" stroke="#000" stroke-width="0.22" textLength="17.40" lengthAdjust="spacingAndGlyphs">17.4%</text>
<text x="52.20" y="410.80" font-size="6.47" font-weight="bold" stroke="#000" stroke-width="0.22" textLength="18.40" lengthAdjust="spacingAndGlyphs">95.3%</text>
<text x="77.00" y="410.80" font-size="6.54" font-weight="bold" stroke="#000" stroke-width="0.22" textLength="15.00" lengthAdjust="spacingAndGlyphs">4.7%</text>
<text x="49.00" y="370.50" font-size="3.2" text-anchor="end" fill="#222" stroke="#222" stroke-width="0.18">10⁵</text>
<text x="49.00" y="380.90" font-size="3.2" text-anchor="end" fill="#222" stroke="#222" stroke-width="0.18">10⁴</text>
<text x="49.00" y="391.30" font-size="3.2" text-anchor="end" fill="#222" stroke="#222" stroke-width="0.18">10³</text>
<text x="49.00" y="402.20" font-size="3.2" text-anchor="end" fill="#222" stroke="#222" stroke-width="0.18">10²</text>
<text x="49.00" y="407.40" font-size="3.2" text-anchor="end" fill="#222" stroke="#222" stroke-width="0.18">0</text>
<text x="56.20" y="416.80" font-size="3.2" text-anchor="middle" fill="#222" stroke="#222" stroke-width="0.18">0</text>
<text x="60.80" y="416.80" font-size="3.2" text-anchor="middle" fill="#222" stroke="#222" stroke-width="0.18">10²</text>
<text x="71.20" y="416.80" font-size="3.2" text-anchor="middle" fill="#222" stroke="#222" stroke-width="0.18">10³</text>
<text x="81.60" y="416.80" font-size="3.2" text-anchor="middle" fill="#222" stroke="#222" stroke-width="0.18">10⁴</text>
<text x="91.40" y="416.80" font-size="3.2" text-anchor="middle" fill="#222" stroke="#222" stroke-width="0.18">10⁵</text>
<g clip-path="url(#clip51_424)"><g filter="url(#grain)">
<rect x="52.00" y="447.40" width="19.00" height="6.60" rx="1.5" fill="#000" fill-opacity="0.4" filter="url(#b1)"></rect>
<rect x="58.50" y="447.80" width="11.50" height="5.70" rx="1.5" fill="#000" fill-opacity="0.85" filter="url(#b1)"></rect>
<rect x="51.00" y="456.60" width="20.20" height="8.20" rx="1.5" fill="#000" fill-opacity="1.0" filter="url(#b1)"></rect>
<rect x="51.20" y="457.20" width="20.30" height="6.80" rx="1.5" fill="#000" fill-opacity="1.0" filter="url(#b1)"></rect>
<rect x="73.80" y="448.00" width="14.60" height="4.80" rx="1.5" fill="#000" fill-opacity="0.22" filter="url(#b1)"></rect>
<rect x="73.20" y="457.80" width="17.60" height="4.60" rx="1.5" fill="#000" fill-opacity="0.55" filter="url(#b1)"></rect>
<rect x="73.20" y="458.50" width="6.80" height="3.30" rx="1.5" fill="#000" fill-opacity="0.3" filter="url(#b1)"></rect>
</g></g>
<clipPath id="clip51_424"><rect x="51.0" y="424.4" width="46.0" height="46.60000000000002"></rect></clipPath>
<rect x="51.00" y="424.40" width="46.00" height="46.60" fill="none" stroke="#333" stroke-width="0.9"></rect>
<line x1="72.40" y1="424.40" x2="72.40" y2="471.00" stroke="#333" stroke-width="0.8"></line>
<line x1="51.00" y1="455.50" x2="97.00" y2="455.50" stroke="#333" stroke-width="0.8"></line>
<text x="52.20" y="430.00" font-size="6.47" font-weight="bold" stroke="#000" stroke-width="0.22" textLength="18.40" lengthAdjust="spacingAndGlyphs">83.4%</text>
<text x="76.40" y="430.00" font-size="6.21" font-weight="bold" stroke="#000" stroke-width="0.22" textLength="17.40" lengthAdjust="spacingAndGlyphs">16.6%</text>
<text x="52.20" y="469.40" font-size="6.47" font-weight="bold" stroke="#000" stroke-width="0.22" textLength="18.40" lengthAdjust="spacingAndGlyphs">95.4%</text>
<text x="77.00" y="469.40" font-size="6.54" font-weight="bold" stroke="#000" stroke-width="0.22" textLength="15.00" lengthAdjust="spacingAndGlyphs">4.6%</text>
<text x="49.00" y="429.30" font-size="3.2" text-anchor="end" fill="#222" stroke="#222" stroke-width="0.18">10⁵</text>
<text x="49.00" y="439.70" font-size="3.2" text-anchor="end" fill="#222" stroke="#222" stroke-width="0.18">10⁴</text>
<text x="49.00" y="450.10" font-size="3.2" text-anchor="end" fill="#222" stroke="#222" stroke-width="0.18">10³</text>
<text x="49.00" y="461.00" font-size="3.2" text-anchor="end" fill="#222" stroke="#222" stroke-width="0.18">10²</text>
<text x="49.00" y="466.20" font-size="3.2" text-anchor="end" fill="#222" stroke="#222" stroke-width="0.18">0</text>
<text x="56.20" y="475.40" font-size="3.2" text-anchor="middle" fill="#222" stroke="#222" stroke-width="0.18">0</text>
<text x="60.80" y="475.40" font-size="3.2" text-anchor="middle" fill="#222" stroke="#222" stroke-width="0.18">10²</text>
<text x="71.20" y="475.40" font-size="3.2" text-anchor="middle" fill="#222" stroke="#222" stroke-width="0.18">10³</text>
<text x="81.60" y="475.40" font-size="3.2" text-anchor="middle" fill="#222" stroke="#222" stroke-width="0.18">10⁴</text>
<text x="91.40" y="475.40" font-size="3.2" text-anchor="middle" fill="#222" stroke="#222" stroke-width="0.18">10⁵</text>
<g clip-path="url(#clip112_365)"><g filter="url(#grain)">
<rect x="114.50" y="389.40" width="16.50" height="5.40" rx="1.5" fill="#000" fill-opacity="0.55" filter="url(#b1)"></rect>
<rect x="119.50" y="389.60" width="11.00" height="4.80" rx="1.5" fill="#000" fill-opacity="0.9" filter="url(#b1)"></rect>
<rect x="112.60" y="399.60" width="19.60" height="7.20" rx="1.5" fill="#000" fill-opacity="1.0" filter="url(#b1)"></rect>
<rect x="113.00" y="400.20" width="19.50" height="6.00" rx="1.5" fill="#000" fill-opacity="1.0" filter="url(#b1)"></rect>
<rect x="140.00" y="390.00" width="15.50" height="4.60" rx="1.5" fill="#000" fill-opacity="0.2" filter="url(#b1)"></rect>
<rect x="148.00" y="390.20" width="8.00" height="4.20" rx="1.5" fill="#000" fill-opacity="0.2" filter="url(#b1)"></rect>
<rect x="136.60" y="400.40" width="19.80" height="4.60" rx="1.5" fill="#000" fill-opacity="0.4" filter="url(#b1)"></rect>
<rect x="145.00" y="400.80" width="11.40" height="3.80" rx="1.5" fill="#000" fill-opacity="0.4" filter="url(#b1)"></rect>
</g></g>
<clipPath id="clip112_365"><rect x="112.4" y="365.6" width="46.599999999999994" height="46.799999999999955"></rect></clipPath>
<rect x="112.40" y="365.60" width="46.60" height="46.80" fill="none" stroke="#333" stroke-width="0.9"></rect>
<line x1="133.70" y1="365.60" x2="133.70" y2="412.40" stroke="#333" stroke-width="0.8"></line>
<line x1="112.40" y1="396.30" x2="159.00" y2="396.30" stroke="#333" stroke-width="0.8"></line>
<text x="113.60" y="371.20" font-size="6.47" font-weight="bold" stroke="#000" stroke-width="0.22" textLength="18.40" lengthAdjust="spacingAndGlyphs">81.1%</text>
<text x="137.70" y="371.20" font-size="6.21" font-weight="bold" stroke="#000" stroke-width="0.22" textLength="17.40" lengthAdjust="spacingAndGlyphs">18.9%</text>
<text x="113.60" y="410.80" font-size="6.47" font-weight="bold" stroke="#000" stroke-width="0.22" textLength="18.40" lengthAdjust="spacingAndGlyphs">95.3%</text>
<text x="138.30" y="410.80" font-size="6.54" font-weight="bold" stroke="#000" stroke-width="0.22" textLength="15.00" lengthAdjust="spacingAndGlyphs">4.7%</text>
<text x="110.40" y="370.50" font-size="3.2" text-anchor="end" fill="#222" stroke="#222" stroke-width="0.18">10⁵</text>
<text x="110.40" y="380.90" font-size="3.2" text-anchor="end" fill="#222" stroke="#222" stroke-width="0.18">10⁴</text>
<text x="110.40" y="391.30" font-size="3.2" text-anchor="end" fill="#222" stroke="#222" stroke-width="0.18">10³</text>
<text x="110.40" y="402.20" font-size="3.2" text-anchor="end" fill="#222" stroke="#222" stroke-width="0.18">10²</text>
<text x="110.40" y="407.40" font-size="3.2" text-anchor="end" fill="#222" stroke="#222" stroke-width="0.18">0</text>
<text x="117.60" y="416.80" font-size="3.2" text-anchor="middle" fill="#222" stroke="#222" stroke-width="0.18">0</text>
<text x="122.20" y="416.80" font-size="3.2" text-anchor="middle" fill="#222" stroke="#222" stroke-width="0.18">10²</text>
<text x="132.60" y="416.80" font-size="3.2" text-anchor="middle" fill="#222" stroke="#222" stroke-width="0.18">10³</text>
<text x="143.00" y="416.80" font-size="3.2" text-anchor="middle" fill="#222" stroke="#222" stroke-width="0.18">10⁴</text>
<text x="152.80" y="416.80" font-size="3.2" text-anchor="middle" fill="#222" stroke="#222" stroke-width="0.18">10⁵</text>
<g clip-path="url(#clip112_424)"><g filter="url(#grain)">
<rect x="119.30" y="447.40" width="12.90" height="5.40" rx="1.5" fill="#000" fill-opacity="0.35" filter="url(#b1)"></rect>
<rect x="124.00" y="447.80" width="7.50" height="4.70" rx="1.5" fill="#000" fill-opacity="0.5" filter="url(#b1)"></rect>
<rect x="112.60" y="456.20" width="19.60" height="8.20" rx="1.5" fill="#000" fill-opacity="0.85" filter="url(#b1)"></rect>
<rect x="117.00" y="456.80" width="14.80" height="7.20" rx="1.5" fill="#000" fill-opacity="0.95" filter="url(#b1)"></rect>
<rect x="140.00" y="448.00" width="15.00" height="4.60" rx="1.5" fill="#000" fill-opacity="0.1" filter="url(#b1)"></rect>
<rect x="138.00" y="457.50" width="16.50" height="4.70" rx="1.5" fill="#000" fill-opacity="0.18" filter="url(#b1)"></rect>
</g></g>
<clipPath id="clip112_424"><rect x="112.4" y="424.4" width="46.599999999999994" height="46.60000000000002"></rect></clipPath>
<rect x="112.40" y="424.40" width="46.60" height="46.60" fill="none" stroke="#333" stroke-width="0.9"></rect>
<line x1="133.70" y1="424.40" x2="133.70" y2="471.00" stroke="#333" stroke-width="0.8"></line>
<line x1="112.40" y1="455.50" x2="159.00" y2="455.50" stroke="#333" stroke-width="0.8"></line>
<text x="113.60" y="430.00" font-size="6.47" font-weight="bold" stroke="#000" stroke-width="0.22" textLength="18.40" lengthAdjust="spacingAndGlyphs">81.8%</text>
<text x="137.70" y="430.00" font-size="6.21" font-weight="bold" stroke="#000" stroke-width="0.22" textLength="17.40" lengthAdjust="spacingAndGlyphs">18.2%</text>
<text x="113.60" y="469.40" font-size="6.47" font-weight="bold" stroke="#000" stroke-width="0.22" textLength="18.40" lengthAdjust="spacingAndGlyphs">96.6%</text>
<text x="138.30" y="469.40" font-size="6.54" font-weight="bold" stroke="#000" stroke-width="0.22" textLength="15.00" lengthAdjust="spacingAndGlyphs">3.4%</text>
<text x="110.40" y="429.30" font-size="3.2" text-anchor="end" fill="#222" stroke="#222" stroke-width="0.18">10⁵</text>
<text x="110.40" y="439.70" font-size="3.2" text-anchor="end" fill="#222" stroke="#222" stroke-width="0.18">10⁴</text>
<text x="110.40" y="450.10" font-size="3.2" text-anchor="end" fill="#222" stroke="#222" stroke-width="0.18">10³</text>
<text x="110.40" y="461.00" font-size="3.2" text-anchor="end" fill="#222" stroke="#222" stroke-width="0.18">10²</text>
<text x="110.40" y="466.20" font-size="3.2" text-anchor="end" fill="#222" stroke="#222" stroke-width="0.18">0</text>
<text x="117.60" y="475.40" font-size="3.2" text-anchor="middle" fill="#222" stroke="#222" stroke-width="0.18">0</text>
<text x="122.20" y="475.40" font-size="3.2" text-anchor="middle" fill="#222" stroke="#222" stroke-width="0.18">10²</text>
<text x="132.60" y="475.40" font-size="3.2" text-anchor="middle" fill="#222" stroke="#222" stroke-width="0.18">10³</text>
<text x="143.00" y="475.40" font-size="3.2" text-anchor="middle" fill="#222" stroke="#222" stroke-width="0.18">10⁴</text>
<text x="152.80" y="475.40" font-size="3.2" text-anchor="middle" fill="#222" stroke="#222" stroke-width="0.18">10⁵</text>
<line x1="199.60" y1="379.70" x2="199.60" y2="443.60" stroke="#000" stroke-width="1.2"></line>
<line x1="197.60" y1="443.00" x2="199.60" y2="443.00" stroke="#000" stroke-width="1.2"></line>
<text x="196.60" y="445.16" font-size="6.0" text-anchor="end" stroke="#000" stroke-width="0.18">0</text>
<line x1="197.60" y1="430.34" x2="199.60" y2="430.34" stroke="#000" stroke-width="1.2"></line>
<text x="196.60" y="432.50" font-size="6.0" text-anchor="end" stroke="#000" stroke-width="0.18">5</text>
<line x1="197.60" y1="417.68" x2="199.60" y2="417.68" stroke="#000" stroke-width="1.2"></line>
<text x="196.60" y="419.84" font-size="6.0" text-anchor="end" stroke="#000" stroke-width="0.18">10</text>
<line x1="197.60" y1="405.02" x2="199.60" y2="405.02" stroke="#000" stroke-width="1.2"></line>
<text x="196.60" y="407.18" font-size="6.0" text-anchor="end" stroke="#000" stroke-width="0.18">15</text>
<line x1="197.60" y1="392.36" x2="199.60" y2="392.36" stroke="#000" stroke-width="1.2"></line>
<text x="196.60" y="394.52" font-size="6.0" text-anchor="end" stroke="#000" stroke-width="0.18">20</text>
<line x1="197.60" y1="379.70" x2="199.60" y2="379.70" stroke="#000" stroke-width="1.2"></line>
<text x="196.60" y="381.86" font-size="6.0" text-anchor="end" stroke="#000" stroke-width="0.18">25</text>
<line x1="207.50" y1="450.20" x2="270.50" y2="450.20" stroke="#000" stroke-width="1.2"></line>
<circle cx="214.40" cy="402.99" r="2.20" fill="#000"></circle>
<circle cx="214.40" cy="412.36" r="2.20" fill="#000"></circle>
<line x1="209.40" y1="407.55" x2="219.80" y2="407.55" stroke="#000" stroke-width="1.0"></line>
<circle cx="230.60" cy="400.21" r="1.65" fill="#fff" stroke="#000" stroke-width="1.1"></circle>
<circle cx="230.60" cy="405.78" r="1.65" fill="#fff" stroke="#000" stroke-width="1.1"></circle>
<line x1="225.60" y1="402.99" x2="235.60" y2="402.99" stroke="#000" stroke-width="1.0"></line>
<rect x="245.95" y="388.89" width="4.40" height="4.40" fill="#000"></rect>
<rect x="244.05" y="389.65" width="4.40" height="4.40" fill="#000"></rect>
<rect x="241.55" y="395.98" width="4.40" height="4.40" fill="#000"></rect>
<rect x="244.05" y="400.03" width="4.40" height="4.40" fill="#000"></rect>
<rect x="241.55" y="406.62" width="4.40" height="4.40" fill="#000"></rect>
<rect x="245.95" y="407.88" width="4.40" height="4.40" fill="#000"></rect>
<rect x="244.05" y="410.92" width="4.40" height="4.40" fill="#000"></rect>
<line x1="241.20" y1="402.99" x2="251.80" y2="402.99" stroke="#000" stroke-width="1.0"></line>
<rect x="260.60" y="381.09" width="3.30" height="3.30" fill="#fff" stroke="#000" stroke-width="1.1"></rect>
<rect x="260.60" y="392.99" width="3.30" height="3.30" fill="#fff" stroke="#000" stroke-width="1.1"></rect>
<rect x="264.00" y="396.53" width="3.30" height="3.30" fill="#fff" stroke="#000" stroke-width="1.1"></rect>
<rect x="260.30" y="399.83" width="3.30" height="3.30" fill="#fff" stroke="#000" stroke-width="1.1"></rect>
<rect x="264.00" y="402.86" width="3.30" height="3.30" fill="#fff" stroke="#000" stroke-width="1.1"></rect>
<rect x="257.80" y="406.66" width="3.30" height="3.30" fill="#fff" stroke="#000" stroke-width="1.1"></rect>
<rect x="261.10" y="407.17" width="3.30" height="3.30" fill="#fff" stroke="#000" stroke-width="1.1"></rect>
<rect x="260.60" y="415.78" width="3.30" height="3.30" fill="#fff" stroke="#000" stroke-width="1.1"></rect>
<line x1="257.50" y1="402.49" x2="267.50" y2="402.49" stroke="#000" stroke-width="1.0"></line>
<polyline points="214.40,395.35 214.40,393.75 230.60,393.75 230.60,395.35" fill="none" stroke="#000" stroke-width="0.9" stroke-linejoin="round"></polyline>
<text x="222.50" y="392.55" font-size="6.0" text-anchor="middle" stroke="#000" stroke-width="0.18">n.s.</text>
<polyline points="246.90,379.10 246.90,377.50 262.75,377.50 262.75,379.10" fill="none" stroke="#000" stroke-width="0.9" stroke-linejoin="round"></polyline>
<text x="254.82" y="376.30" font-size="6.0" text-anchor="middle" stroke="#000" stroke-width="0.18">n.s.</text>
<text x="225.50" y="364.00" font-size="7.39" stroke="#000" stroke-width="0.18" textLength="23.20" lengthAdjust="spacingAndGlyphs">Spleen</text>
<text x="176.50" y="410.30" font-size="6.21" text-anchor="middle" stroke="#000" stroke-width="0.18" textLength="80.00" lengthAdjust="spacingAndGlyphs" transform="rotate(-90 176.50 410.30)">BrdU<tspan dy="-0.42em" font-size="75%">+</tspan><tspan dy="0.315em"> CD4<tspan dy="-0.42em" font-size="75%">+</tspan><tspan dy="0.315em"> FoxP3<tspan dy="-0.42em" font-size="75%">+</tspan><tspan dy="0.315em"> T cells /</tspan></tspan></tspan></text>
<text x="184.40" y="410.00" font-size="5.99" text-anchor="middle" stroke="#000" stroke-width="0.18" textLength="65.30" lengthAdjust="spacingAndGlyphs" transform="rotate(-90 184.40 410.00)">CD4<tspan dy="-0.42em" font-size="75%">+</tspan><tspan dy="0.315em"> FoxP3<tspan dy="-0.42em" font-size="75%">+</tspan><tspan dy="0.315em"> T cells [%]</tspan></tspan></text>
<line x1="292.40" y1="380.30" x2="292.40" y2="443.20" stroke="#000" stroke-width="1.2"></line>
<line x1="290.40" y1="442.60" x2="292.40" y2="442.60" stroke="#000" stroke-width="1.2"></line>
<text x="289.40" y="444.76" font-size="6.0" text-anchor="end" stroke="#000" stroke-width="0.18">0</text>
<line x1="290.40" y1="427.03" x2="292.40" y2="427.03" stroke="#000" stroke-width="1.2"></line>
<text x="289.40" y="429.19" font-size="6.0" text-anchor="end" stroke="#000" stroke-width="0.18">10</text>
<line x1="290.40" y1="411.45" x2="292.40" y2="411.45" stroke="#000" stroke-width="1.2"></line>
<text x="289.40" y="413.61" font-size="6.0" text-anchor="end" stroke="#000" stroke-width="0.18">20</text>
<line x1="290.40" y1="395.88" x2="292.40" y2="395.88" stroke="#000" stroke-width="1.2"></line>
<text x="289.40" y="398.04" font-size="6.0" text-anchor="end" stroke="#000" stroke-width="0.18">30</text>
<line x1="290.40" y1="380.30" x2="292.40" y2="380.30" stroke="#000" stroke-width="1.2"></line>
<text x="289.40" y="382.46" font-size="6.0" text-anchor="end" stroke="#000" stroke-width="0.18">40</text>
<line x1="298.80" y1="450.20" x2="361.30" y2="450.20" stroke="#000" stroke-width="1.2"></line>
<circle cx="305.50" cy="428.74" r="2.20" fill="#000"></circle>
<circle cx="307.50" cy="429.05" r="2.20" fill="#000"></circle>
<circle cx="309.50" cy="428.74" r="2.20" fill="#000"></circle>
<circle cx="308.50" cy="428.43" r="2.20" fill="#000"></circle>
<line x1="302.50" y1="428.89" x2="312.50" y2="428.89" stroke="#000" stroke-width="1.0"></line>
<circle cx="324.50" cy="423.60" r="1.65" fill="#fff" stroke="#000" stroke-width="1.1"></circle>
<circle cx="321.50" cy="425.47" r="1.65" fill="#fff" stroke="#000" stroke-width="1.1"></circle>
<circle cx="322.50" cy="426.25" r="1.65" fill="#fff" stroke="#000" stroke-width="1.1"></circle>
<line x1="317.50" y1="424.53" x2="327.50" y2="424.53" stroke="#000" stroke-width="1.0"></line>
<rect x="334.30" y="382.77" width="4.40" height="4.40" fill="#000"></rect>
<rect x="332.30" y="396.79" width="4.40" height="4.40" fill="#000"></rect>
<rect x="334.30" y="399.91" width="4.40" height="4.40" fill="#000"></rect>
<rect x="332.30" y="409.25" width="4.40" height="4.40" fill="#000"></rect>
<rect x="334.30" y="412.37" width="4.40" height="4.40" fill="#000"></rect>
<rect x="332.30" y="424.83" width="4.40" height="4.40" fill="#000"></rect>
<rect x="334.30" y="427.94" width="4.40" height="4.40" fill="#000"></rect>
<rect x="332.30" y="428.72" width="4.40" height="4.40" fill="#000"></rect>
<line x1="330.00" y1="415.81" x2="341.00" y2="415.81" stroke="#000" stroke-width="1.0"></line>
<rect x="352.15" y="392.67" width="3.30" height="3.30" fill="#fff" stroke="#000" stroke-width="1.1"></rect>
<rect x="354.15" y="408.24" width="3.30" height="3.30" fill="#fff" stroke="#000" stroke-width="1.1"></rect>
<rect x="351.15" y="412.92" width="3.30" height="3.30" fill="#fff" stroke="#000" stroke-width="1.1"></rect>
<rect x="353.15" y="416.03" width="3.30" height="3.30" fill="#fff" stroke="#000" stroke-width="1.1"></rect>
<rect x="350.15" y="419.15" width="3.30" height="3.30" fill="#fff" stroke="#000" stroke-width="1.1"></rect>
<rect x="353.15" y="422.26" width="3.30" height="3.30" fill="#fff" stroke="#000" stroke-width="1.1"></rect>
<rect x="351.15" y="425.38" width="3.30" height="3.30" fill="#fff" stroke="#000" stroke-width="1.1"></rect>
<rect x="352.15" y="430.05" width="3.30" height="3.30" fill="#fff" stroke="#000" stroke-width="1.1"></rect>
<line x1="348.30" y1="417.68" x2="359.30" y2="417.68" stroke="#000" stroke-width="1.0"></line>
<polyline points="306.30,417.90 306.30,416.30 321.30,416.30 321.30,417.90" fill="none" stroke="#000" stroke-width="0.9" stroke-linejoin="round"></polyline>
<text x="313.80" y="415.10" font-size="6.0" text-anchor="middle" stroke="#000" stroke-width="0.18">n.s.</text>
<polyline points="338.80,378.80 338.80,377.20 354.30,377.20 354.30,378.80" fill="none" stroke="#000" stroke-width="0.9" stroke-linejoin="round"></polyline>
<text x="346.55" y="376.00" font-size="6.0" text-anchor="middle" stroke="#000" stroke-width="0.18">n.s.</text>
<text x="300.80" y="358.20" font-size="7.53" stroke="#000" stroke-width="0.18" textLength="56.50" lengthAdjust="spacingAndGlyphs">(Tumor-draining)</text>
<text x="310.00" y="365.60" font-size="7.43" stroke="#000" stroke-width="0.18" textLength="37.50" lengthAdjust="spacingAndGlyphs">inguinal LN</text>
<line x1="199.70" y1="468.80" x2="199.70" y2="533.00" stroke="#000" stroke-width="1.2"></line>
<line x1="197.70" y1="532.40" x2="199.70" y2="532.40" stroke="#000" stroke-width="1.2"></line>
<text x="196.70" y="534.56" font-size="6.0" text-anchor="end" stroke="#000" stroke-width="0.18">0</text>
<line x1="197.70" y1="516.50" x2="199.70" y2="516.50" stroke="#000" stroke-width="1.2"></line>
<text x="196.70" y="518.66" font-size="6.0" text-anchor="end" stroke="#000" stroke-width="0.18">2</text>
<line x1="197.70" y1="500.60" x2="199.70" y2="500.60" stroke="#000" stroke-width="1.2"></line>
<text x="196.70" y="502.76" font-size="6.0" text-anchor="end" stroke="#000" stroke-width="0.18">4</text>
<line x1="197.70" y1="484.70" x2="199.70" y2="484.70" stroke="#000" stroke-width="1.2"></line>
<text x="196.70" y="486.86" font-size="6.0" text-anchor="end" stroke="#000" stroke-width="0.18">6</text>
<line x1="197.70" y1="468.80" x2="199.70" y2="468.80" stroke="#000" stroke-width="1.2"></line>
<text x="196.70" y="470.96" font-size="6.0" text-anchor="end" stroke="#000" stroke-width="0.18">8</text>
<line x1="206.40" y1="539.40" x2="271.10" y2="539.40" stroke="#000" stroke-width="1.2"></line>
<circle cx="214.50" cy="491.06" r="2.20" fill="#000"></circle>
<circle cx="214.50" cy="504.57" r="2.20" fill="#000"></circle>
<line x1="209.00" y1="497.42" x2="220.00" y2="497.42" stroke="#000" stroke-width="1.0"></line>
<circle cx="229.00" cy="507.75" r="1.65" fill="#fff" stroke="#000" stroke-width="1.1"></circle>
<circle cx="231.00" cy="507.75" r="1.65" fill="#fff" stroke="#000" stroke-width="1.1"></circle>
<circle cx="233.00" cy="507.75" r="1.65" fill="#fff" stroke="#000" stroke-width="1.1"></circle>
<line x1="226.00" y1="507.75" x2="236.00" y2="507.75" stroke="#000" stroke-width="1.0"></line>
<rect x="244.10" y="479.32" width="4.40" height="4.40" fill="#000"></rect>
<rect x="243.10" y="488.86" width="4.40" height="4.40" fill="#000"></rect>
<rect x="246.10" y="490.45" width="4.40" height="4.40" fill="#000"></rect>
<rect x="242.10" y="492.04" width="4.40" height="4.40" fill="#000"></rect>
<rect x="245.10" y="493.63" width="4.40" height="4.40" fill="#000"></rect>
<rect x="243.10" y="496.81" width="4.40" height="4.40" fill="#000"></rect>
<rect x="245.10" y="500.79" width="4.40" height="4.40" fill="#000"></rect>
<line x1="240.80" y1="494.24" x2="251.80" y2="494.24" stroke="#000" stroke-width="1.0"></line>
<rect x="261.85" y="486.23" width="3.30" height="3.30" fill="#fff" stroke="#000" stroke-width="1.1"></rect>
<rect x="259.85" y="494.18" width="3.30" height="3.30" fill="#fff" stroke="#000" stroke-width="1.1"></rect>
<rect x="262.85" y="494.98" width="3.30" height="3.30" fill="#fff" stroke="#000" stroke-width="1.1"></rect>
<rect x="260.85" y="497.36" width="3.30" height="3.30" fill="#fff" stroke="#000" stroke-width="1.1"></rect>
<rect x="258.85" y="502.13" width="3.30" height="3.30" fill="#fff" stroke="#000" stroke-width="1.1"></rect>
<rect x="261.85" y="503.72" width="3.30" height="3.30" fill="#fff" stroke="#000" stroke-width="1.1"></rect>
<rect x="259.85" y="505.31" width="3.30" height="3.30" fill="#fff" stroke="#000" stroke-width="1.1"></rect>
<line x1="257.00" y1="498.21" x2="268.00" y2="498.21" stroke="#000" stroke-width="1.0"></line>
<polyline points="215.00,484.20 215.00,482.60 231.30,482.60 231.30,484.20" fill="none" stroke="#000" stroke-width="0.9" stroke-linejoin="round"></polyline>
<text x="223.15" y="481.40" font-size="6.0" text-anchor="middle" stroke="#000" stroke-width="0.18">n.s.</text>
<polyline points="246.80,471.20 246.80,469.60 262.50,469.60 262.50,471.20" fill="none" stroke="#000" stroke-width="0.9" stroke-linejoin="round"></polyline>
<text x="254.65" y="468.40" font-size="6.0" text-anchor="middle" stroke="#000" stroke-width="0.18">n.s.</text>
<text x="177.90" y="500.90" font-size="6.38" text-anchor="middle" stroke="#000" stroke-width="0.18" textLength="81.70" lengthAdjust="spacingAndGlyphs" transform="rotate(-90 177.90 500.90)">BrdU<tspan dy="-0.42em" font-size="75%">+</tspan><tspan dy="0.315em"> CD4<tspan dy="-0.42em" font-size="75%">+</tspan><tspan dy="0.315em"> FoxP3<tspan dy="-0.42em" font-size="75%">-</tspan><tspan dy="0.315em"> T cells /</tspan></tspan></tspan></text>
<text x="185.50" y="500.20" font-size="6.30" text-anchor="middle" stroke="#000" stroke-width="0.18" textLength="68.60" lengthAdjust="spacingAndGlyphs" transform="rotate(-90 185.50 500.20)">CD4<tspan dy="-0.42em" font-size="75%">+</tspan><tspan dy="0.315em"> FoxP3<tspan dy="-0.42em" font-size="75%">-</tspan><tspan dy="0.315em"> T cells [%]</tspan></tspan></text>
<line x1="292.40" y1="469.60" x2="292.40" y2="533.00" stroke="#000" stroke-width="1.2"></line>
<line x1="290.40" y1="532.40" x2="292.40" y2="532.40" stroke="#000" stroke-width="1.2"></line>
<text x="289.40" y="534.56" font-size="6.0" text-anchor="end" stroke="#000" stroke-width="0.18">0</text>
<line x1="290.40" y1="516.70" x2="292.40" y2="516.70" stroke="#000" stroke-width="1.2"></line>
<text x="289.40" y="518.86" font-size="6.0" text-anchor="end" stroke="#000" stroke-width="0.18">2</text>
<line x1="290.40" y1="501.00" x2="292.40" y2="501.00" stroke="#000" stroke-width="1.2"></line>
<text x="289.40" y="503.16" font-size="6.0" text-anchor="end" stroke="#000" stroke-width="0.18">4</text>
<line x1="290.40" y1="485.30" x2="292.40" y2="485.30" stroke="#000" stroke-width="1.2"></line>
<text x="289.40" y="487.46" font-size="6.0" text-anchor="end" stroke="#000" stroke-width="0.18">6</text>
<line x1="290.40" y1="469.60" x2="292.40" y2="469.60" stroke="#000" stroke-width="1.2"></line>
<text x="289.40" y="471.76" font-size="6.0" text-anchor="end" stroke="#000" stroke-width="0.18">8</text>
<line x1="298.50" y1="539.40" x2="362.50" y2="539.40" stroke="#000" stroke-width="1.2"></line>
<circle cx="307.00" cy="512.77" r="2.20" fill="#000"></circle>
<circle cx="307.00" cy="520.62" r="2.20" fill="#000"></circle>
<line x1="301.50" y1="516.70" x2="312.50" y2="516.70" stroke="#000" stroke-width="1.0"></line>
<circle cx="323.50" cy="511.20" r="1.65" fill="#fff" stroke="#000" stroke-width="1.1"></circle>
<circle cx="321.50" cy="515.91" r="1.65" fill="#fff" stroke="#000" stroke-width="1.1"></circle>
<line x1="317.50" y1="513.56" x2="327.50" y2="513.56" stroke="#000" stroke-width="1.0"></line>
<rect x="335.80" y="488.60" width="4.40" height="4.40" fill="#000"></rect>
<rect x="334.80" y="490.95" width="4.40" height="4.40" fill="#000"></rect>
<rect x="336.80" y="494.09" width="4.40" height="4.40" fill="#000"></rect>
<rect x="334.80" y="506.65" width="4.40" height="4.40" fill="#000"></rect>
<rect x="336.80" y="508.22" width="4.40" height="4.40" fill="#000"></rect>
<rect x="335.80" y="512.93" width="4.40" height="4.40" fill="#000"></rect>
<rect x="334.80" y="513.71" width="4.40" height="4.40" fill="#000"></rect>
<line x1="332.50" y1="504.14" x2="343.50" y2="504.14" stroke="#000" stroke-width="1.0"></line>
<rect x="352.15" y="484.44" width="3.30" height="3.30" fill="#fff" stroke="#000" stroke-width="1.1"></rect>
<rect x="353.15" y="488.36" width="3.30" height="3.30" fill="#fff" stroke="#000" stroke-width="1.1"></rect>
<rect x="353.15" y="497.00" width="3.30" height="3.30" fill="#fff" stroke="#000" stroke-width="1.1"></rect>
<rect x="351.15" y="498.57" width="3.30" height="3.30" fill="#fff" stroke="#000" stroke-width="1.1"></rect>
<rect x="352.15" y="507.20" width="3.30" height="3.30" fill="#fff" stroke="#000" stroke-width="1.1"></rect>
<rect x="353.15" y="508.77" width="3.30" height="3.30" fill="#fff" stroke="#000" stroke-width="1.1"></rect>
<rect x="351.15" y="513.48" width="3.30" height="3.30" fill="#fff" stroke="#000" stroke-width="1.1"></rect>
<line x1="348.30" y1="501.79" x2="359.30" y2="501.79" stroke="#000" stroke-width="1.0"></line>
<polyline points="307.50,504.90 307.50,503.30 323.30,503.30 323.30,504.90" fill="none" stroke="#000" stroke-width="0.9" stroke-linejoin="round"></polyline>
<text x="315.40" y="502.10" font-size="6.0" text-anchor="middle" stroke="#000" stroke-width="0.18">n.s.</text>
<polyline points="337.00,481.20 337.00,479.60 352.50,479.60 352.50,481.20" fill="none" stroke="#000" stroke-width="0.9" stroke-linejoin="round"></polyline>
<text x="344.75" y="478.40" font-size="6.0" text-anchor="middle" stroke="#000" stroke-width="0.18">n.s.</text>
<circle cx="115.20" cy="502.90" r="2.30" fill="#000"></circle>
<text x="120.60" y="505.20" font-size="6.47" stroke="#000" stroke-width="0.18" textLength="30.50" lengthAdjust="spacingAndGlyphs">BL/6 naive</text>
<circle cx="115.20" cy="511.60" r="1.75" fill="#fff" stroke="#000" stroke-width="1.1"></circle>
<text x="120.60" y="513.90" font-size="6.64" stroke="#000" stroke-width="0.18" textLength="38.60" lengthAdjust="spacingAndGlyphs"><tspan font-style="italic">Cd27</tspan><tspan dy="-0.42em" font-size="75%">-/-</tspan><tspan dy="0.315em"> naive</tspan></text>
<rect x="112.90" y="518.50" width="4.60" height="4.60" fill="#000"></rect>
<text x="120.60" y="523.10" font-size="6.45" stroke="#000" stroke-width="0.18" textLength="32.20" lengthAdjust="spacingAndGlyphs">BL/6 MC57</text>
<rect x="113.45" y="527.65" width="3.50" height="3.50" fill="#fff" stroke="#000" stroke-width="1.1"></rect>
<text x="120.60" y="531.70" font-size="6.62" stroke="#000" stroke-width="0.18" textLength="40.30" lengthAdjust="spacingAndGlyphs"><tspan font-style="italic">Cd27</tspan><tspan dy="-0.42em" font-size="75%">-/-</tspan><tspan dy="0.315em"> MC57</tspan></text>
<text x="375.70" y="352.50" font-size="15.5" font-weight="bold" stroke="#000" stroke-width="0.22">E</text>
<text x="388.80" y="365.80" font-size="7.32" stroke="#000" stroke-width="0.18" textLength="105.00" lengthAdjust="spacingAndGlyphs">FACS-purified CD4<tspan dy="-0.42em" font-size="75%">+</tspan><tspan dy="0.315em">CD25<tspan dy="-0.42em" font-size="75%">hi</tspan><tspan dy="0.315em"> TILs</tspan></tspan></text>
<line x1="401.00" y1="378.50" x2="401.00" y2="450.00" stroke="#000" stroke-width="1.2"></line>
<line x1="399.00" y1="449.40" x2="401.00" y2="449.40" stroke="#000" stroke-width="1.2"></line>
<text x="398.00" y="451.56" font-size="6.0" text-anchor="end" stroke="#000" stroke-width="0.18">0</text>
<line x1="399.00" y1="435.22" x2="401.00" y2="435.22" stroke="#000" stroke-width="1.2"></line>
<text x="398.00" y="437.38" font-size="6.0" text-anchor="end" stroke="#000" stroke-width="0.18">20</text>
<line x1="399.00" y1="421.04" x2="401.00" y2="421.04" stroke="#000" stroke-width="1.2"></line>
<text x="398.00" y="423.20" font-size="6.0" text-anchor="end" stroke="#000" stroke-width="0.18">40</text>
<line x1="399.00" y1="406.86" x2="401.00" y2="406.86" stroke="#000" stroke-width="1.2"></line>
<text x="398.00" y="409.02" font-size="6.0" text-anchor="end" stroke="#000" stroke-width="0.18">60</text>
<line x1="399.00" y1="392.68" x2="401.00" y2="392.68" stroke="#000" stroke-width="1.2"></line>
<text x="398.00" y="394.84" font-size="6.0" text-anchor="end" stroke="#000" stroke-width="0.18">80</text>
<line x1="399.00" y1="378.50" x2="401.00" y2="378.50" stroke="#000" stroke-width="1.2"></line>
<text x="398.00" y="380.66" font-size="6.0" text-anchor="end" stroke="#000" stroke-width="0.18">100</text>
<line x1="401.00" y1="449.40" x2="487.00" y2="449.40" stroke="#000" stroke-width="1.1"></line>
<line x1="415.40" y1="449.40" x2="415.40" y2="451.40" stroke="#000" stroke-width="1.0"></line>
<line x1="443.80" y1="449.40" x2="443.80" y2="451.40" stroke="#000" stroke-width="1.0"></line>
<line x1="471.90" y1="449.40" x2="471.90" y2="451.40" stroke="#000" stroke-width="1.0"></line>
<rect x="406.70" y="396.73" width="6.80" height="52.67" fill="#000" stroke="#000" stroke-width="1.0"></rect>
<rect x="417.30" y="395.80" width="6.80" height="53.60" fill="#fff" stroke="#000" stroke-width="1.0"></rect>
<rect x="435.20" y="437.92" width="6.60" height="11.48" fill="#000" stroke="#000" stroke-width="1.0"></rect>
<rect x="445.70" y="438.91" width="6.40" height="10.49" fill="#fff" stroke="#000" stroke-width="1.0"></rect>
<rect x="463.60" y="443.59" width="6.60" height="5.81" fill="#000" stroke="#000" stroke-width="1.0"></rect>
<rect x="474.00" y="443.59" width="6.60" height="5.81" fill="#fff" stroke="#000" stroke-width="1.0"></rect>
<polyline points="409.60,390.90 409.60,389.30 421.20,389.30 421.20,390.90" fill="none" stroke="#000" stroke-width="0.9" stroke-linejoin="round"></polyline>
<text x="415.40" y="387.90" font-size="6.2" text-anchor="middle" stroke="#000" stroke-width="0.18">n.s.</text>
<polyline points="438.50,436.00 438.50,434.40 449.80,434.40 449.80,436.00" fill="none" stroke="#000" stroke-width="0.9" stroke-linejoin="round"></polyline>
<text x="444.15" y="433.00" font-size="6.2" text-anchor="middle" stroke="#000" stroke-width="0.18">n.s.</text>
<polyline points="466.90,441.20 466.90,439.60 478.10,439.60 478.10,441.20" fill="none" stroke="#000" stroke-width="0.9" stroke-linejoin="round"></polyline>
<text x="472.50" y="438.20" font-size="6.2" text-anchor="middle" stroke="#000" stroke-width="0.18">n.s.</text>
<text x="384.00" y="415.00" font-size="6.0" text-anchor="middle" stroke="#000" stroke-width="0.18" transform="rotate(-90 384.00 415.00)">%</text>
<text x="422.60" y="457.20" font-size="6.2" text-anchor="end" stroke="#000" stroke-width="0.18" transform="rotate(-45 422.60 457.20)">G0/G1</text>
<text x="445.40" y="458.60" font-size="6.2" text-anchor="end" stroke="#000" stroke-width="0.18" transform="rotate(-45 445.40 458.60)">S</text>
<text x="473.80" y="458.60" font-size="6.2" text-anchor="end" stroke="#000" stroke-width="0.18" transform="rotate(-45 473.80 458.60)">G2</text>
<text x="418.10" y="473.30" font-size="6.39" stroke="#000" stroke-width="0.18" textLength="52.80" lengthAdjust="spacingAndGlyphs">Phase of cell cycle</text>
<rect x="449.40" y="391.40" width="11.00" height="3.80" fill="#000" stroke="#000" stroke-width="0.6"></rect>
<rect x="449.40" y="399.80" width="11.00" height="3.60" fill="#fff" stroke="#000" stroke-width="0.9"></rect>
<text x="463.80" y="395.50" font-size="6.28" stroke="#000" stroke-width="0.18" textLength="36.20" lengthAdjust="spacingAndGlyphs">BL/6 (<tspan font-style="italic">n</tspan> = 12)</text>
<text x="463.80" y="404.00" font-size="6.41" stroke="#000" stroke-width="0.18" textLength="43.90" lengthAdjust="spacingAndGlyphs"><tspan font-style="italic">Cd27</tspan><tspan dy="-0.42em" font-size="75%">-/-</tspan><tspan dy="0.315em"> (<tspan font-style="italic">n</tspan> = 12)</tspan></text>
<text x="95.90" y="564.30" font-size="15.5" font-weight="bold" stroke="#000" stroke-width="0.22">F</text>
<line x1="125.30" y1="587.30" x2="125.30" y2="652.00" stroke="#000" stroke-width="1.2"></line>
<line x1="123.30" y1="651.40" x2="125.30" y2="651.40" stroke="#000" stroke-width="1.2"></line>
<text x="122.30" y="653.56" font-size="6.0" text-anchor="end" stroke="#000" stroke-width="0.18">0</text>
<line x1="123.30" y1="638.58" x2="125.30" y2="638.58" stroke="#000" stroke-width="1.2"></line>
<text x="122.30" y="640.74" font-size="6.0" text-anchor="end" stroke="#000" stroke-width="0.18">10</text>
<line x1="123.30" y1="625.76" x2="125.30" y2="625.76" stroke="#000" stroke-width="1.2"></line>
<text x="122.30" y="627.92" font-size="6.0" text-anchor="end" stroke="#000" stroke-width="0.18">20</text>
<line x1="123.30" y1="612.94" x2="125.30" y2="612.94" stroke="#000" stroke-width="1.2"></line>
<text x="122.30" y="615.10" font-size="6.0" text-anchor="end" stroke="#000" stroke-width="0.18">30</text>
<line x1="123.30" y1="600.12" x2="125.30" y2="600.12" stroke="#000" stroke-width="1.2"></line>
<text x="122.30" y="602.28" font-size="6.0" text-anchor="end" stroke="#000" stroke-width="0.18">40</text>
<line x1="123.30" y1="587.30" x2="125.30" y2="587.30" stroke="#000" stroke-width="1.2"></line>
<text x="122.30" y="589.46" font-size="6.0" text-anchor="end" stroke="#000" stroke-width="0.18">50</text>
<line x1="132.30" y1="658.40" x2="197.00" y2="658.40" stroke="#000" stroke-width="1.2"></line>
<circle cx="140.00" cy="609.09" r="2.20" fill="#000"></circle>
<circle cx="139.00" cy="634.73" r="2.20" fill="#000"></circle>
<circle cx="142.00" cy="636.02" r="2.20" fill="#000"></circle>
<circle cx="138.00" cy="637.30" r="2.20" fill="#000"></circle>
<circle cx="140.00" cy="642.43" r="2.20" fill="#000"></circle>
<line x1="134.50" y1="632.17" x2="145.50" y2="632.17" stroke="#000" stroke-width="1.0"></line>
<circle cx="158.30" cy="612.94" r="1.65" fill="#fff" stroke="#000" stroke-width="1.1"></circle>
<circle cx="155.30" cy="616.79" r="1.65" fill="#fff" stroke="#000" stroke-width="1.1"></circle>
<circle cx="156.30" cy="633.45" r="1.65" fill="#fff" stroke="#000" stroke-width="1.1"></circle>
<circle cx="155.30" cy="641.14" r="1.65" fill="#fff" stroke="#000" stroke-width="1.1"></circle>
<circle cx="157.30" cy="642.43" r="1.65" fill="#fff" stroke="#000" stroke-width="1.1"></circle>
<line x1="150.80" y1="628.96" x2="161.80" y2="628.96" stroke="#000" stroke-width="1.0"></line>
<rect x="170.40" y="591.51" width="4.40" height="4.40" fill="#000"></rect>
<rect x="167.50" y="603.05" width="4.40" height="4.40" fill="#000"></rect>
<rect x="170.60" y="605.61" width="4.40" height="4.40" fill="#000"></rect>
<rect x="173.20" y="610.74" width="4.40" height="4.40" fill="#000"></rect>
<rect x="170.10" y="613.94" width="4.40" height="4.40" fill="#000"></rect>
<rect x="167.50" y="616.64" width="4.40" height="4.40" fill="#000"></rect>
<rect x="173.20" y="616.64" width="4.40" height="4.40" fill="#000"></rect>
<rect x="170.10" y="618.82" width="4.40" height="4.40" fill="#000"></rect>
<rect x="173.20" y="622.79" width="4.40" height="4.40" fill="#000"></rect>
<rect x="170.10" y="628.56" width="4.40" height="4.40" fill="#000"></rect>
<rect x="170.30" y="633.17" width="4.40" height="4.40" fill="#000"></rect>
<line x1="167.00" y1="615.25" x2="177.60" y2="615.25" stroke="#000" stroke-width="1.0"></line>
<rect x="188.75" y="594.62" width="3.30" height="3.30" fill="#fff" stroke="#000" stroke-width="1.1"></rect>
<rect x="185.65" y="594.62" width="3.30" height="3.30" fill="#fff" stroke="#000" stroke-width="1.1"></rect>
<rect x="184.35" y="601.03" width="3.30" height="3.30" fill="#fff" stroke="#000" stroke-width="1.1"></rect>
<rect x="186.95" y="604.88" width="3.30" height="3.30" fill="#fff" stroke="#000" stroke-width="1.1"></rect>
<rect x="186.55" y="613.21" width="3.30" height="3.30" fill="#fff" stroke="#000" stroke-width="1.1"></rect>
<rect x="189.65" y="617.70" width="3.30" height="3.30" fill="#fff" stroke="#000" stroke-width="1.1"></rect>
<rect x="184.35" y="620.26" width="3.30" height="3.30" fill="#fff" stroke="#000" stroke-width="1.1"></rect>
<rect x="186.95" y="622.83" width="3.30" height="3.30" fill="#fff" stroke="#000" stroke-width="1.1"></rect>
<rect x="186.95" y="633.85" width="3.30" height="3.30" fill="#fff" stroke="#000" stroke-width="1.1"></rect>
<line x1="183.35" y1="612.94" x2="194.35" y2="612.94" stroke="#000" stroke-width="1.0"></line>
<polyline points="139.30,588.40 139.30,586.80 155.00,586.80 155.00,588.40" fill="none" stroke="#000" stroke-width="0.9" stroke-linejoin="round"></polyline>
<text x="147.15" y="585.60" font-size="6.0" text-anchor="middle" stroke="#000" stroke-width="0.18">n.s.</text>
<polyline points="173.20,588.20 173.20,586.60 189.50,586.60 189.50,588.20" fill="none" stroke="#000" stroke-width="0.9" stroke-linejoin="round"></polyline>
<text x="181.35" y="585.40" font-size="6.0" text-anchor="middle" stroke="#000" stroke-width="0.18">n.s.</text>
<text x="147.50" y="570.00" font-size="7.29" stroke="#000" stroke-width="0.18" textLength="23.00" lengthAdjust="spacingAndGlyphs">Spleen</text>
<text x="102.60" y="619.30" font-size="6.26" text-anchor="middle" stroke="#000" stroke-width="0.18" textLength="72.80" lengthAdjust="spacingAndGlyphs" transform="rotate(-90 102.60 619.30)">Annexin V<tspan dy="-0.42em" font-size="75%">+</tspan><tspan dy="0.315em">CD25<tspan dy="-0.42em" font-size="75%">+</tspan><tspan dy="0.315em"> Tregs /</tspan></tspan></text>
<text x="110.90" y="621.60" font-size="6.32" text-anchor="middle" stroke="#000" stroke-width="0.18" textLength="62.80" lengthAdjust="spacingAndGlyphs" transform="rotate(-90 110.90 621.60)">total CD25<tspan dy="-0.42em" font-size="75%">+</tspan><tspan dy="0.315em"> Tregs [%]</tspan></text>
<line x1="216.20" y1="587.40" x2="216.20" y2="651.40" stroke="#000" stroke-width="1.2"></line>
<line x1="214.20" y1="650.80" x2="216.20" y2="650.80" stroke="#000" stroke-width="1.2"></line>
<text x="213.20" y="652.96" font-size="6.0" text-anchor="end" stroke="#000" stroke-width="0.18">0</text>
<line x1="214.20" y1="629.67" x2="216.20" y2="629.67" stroke="#000" stroke-width="1.2"></line>
<text x="213.20" y="631.83" font-size="6.0" text-anchor="end" stroke="#000" stroke-width="0.18">10</text>
<line x1="214.20" y1="608.53" x2="216.20" y2="608.53" stroke="#000" stroke-width="1.2"></line>
<text x="213.20" y="610.69" font-size="6.0" text-anchor="end" stroke="#000" stroke-width="0.18">20</text>
<line x1="214.20" y1="587.40" x2="216.20" y2="587.40" stroke="#000" stroke-width="1.2"></line>
<text x="213.20" y="589.56" font-size="6.0" text-anchor="end" stroke="#000" stroke-width="0.18">30</text>
<line x1="223.50" y1="657.60" x2="287.00" y2="657.60" stroke="#000" stroke-width="1.2"></line>
<circle cx="231.80" cy="593.74" r="2.20" fill="#000"></circle>
<circle cx="231.80" cy="607.48" r="2.20" fill="#000"></circle>
<circle cx="232.80" cy="612.76" r="2.20" fill="#000"></circle>
<circle cx="230.80" cy="620.16" r="2.20" fill="#000"></circle>
<line x1="226.30" y1="608.53" x2="237.30" y2="608.53" stroke="#000" stroke-width="1.0"></line>
<circle cx="249.50" cy="600.08" r="1.65" fill="#fff" stroke="#000" stroke-width="1.1"></circle>
<circle cx="246.50" cy="600.93" r="1.65" fill="#fff" stroke="#000" stroke-width="1.1"></circle>
<circle cx="247.50" cy="610.65" r="1.65" fill="#fff" stroke="#000" stroke-width="1.1"></circle>
<circle cx="247.50" cy="622.27" r="1.65" fill="#fff" stroke="#000" stroke-width="1.1"></circle>
<line x1="242.00" y1="601.14" x2="253.00" y2="601.14" stroke="#000" stroke-width="1.0"></line>
<rect x="261.10" y="612.67" width="4.40" height="4.40" fill="#000"></rect>
<rect x="260.10" y="619.01" width="4.40" height="4.40" fill="#000"></rect>
<rect x="263.10" y="620.07" width="4.40" height="4.40" fill="#000"></rect>
<rect x="262.10" y="630.64" width="4.40" height="4.40" fill="#000"></rect>
<rect x="260.10" y="633.81" width="4.40" height="4.40" fill="#000"></rect>
<rect x="260.10" y="641.20" width="4.40" height="4.40" fill="#000"></rect>
<rect x="263.10" y="642.26" width="4.40" height="4.40" fill="#000"></rect>
<rect x="261.10" y="645.43" width="4.40" height="4.40" fill="#000"></rect>
<rect x="260.10" y="646.49" width="4.40" height="4.40" fill="#000"></rect>
<line x1="257.80" y1="633.89" x2="268.80" y2="633.89" stroke="#000" stroke-width="1.0"></line>
<rect x="277.85" y="594.20" width="3.30" height="3.30" fill="#fff" stroke="#000" stroke-width="1.1"></rect>
<rect x="276.85" y="600.54" width="3.30" height="3.30" fill="#fff" stroke="#000" stroke-width="1.1"></rect>
<rect x="279.85" y="605.83" width="3.30" height="3.30" fill="#fff" stroke="#000" stroke-width="1.1"></rect>
<rect x="275.85" y="606.88" width="3.30" height="3.30" fill="#fff" stroke="#000" stroke-width="1.1"></rect>
<rect x="277.85" y="607.94" width="3.30" height="3.30" fill="#fff" stroke="#000" stroke-width="1.1"></rect>
<rect x="279.85" y="609.00" width="3.30" height="3.30" fill="#fff" stroke="#000" stroke-width="1.1"></rect>
<rect x="276.85" y="612.17" width="3.30" height="3.30" fill="#fff" stroke="#000" stroke-width="1.1"></rect>
<rect x="278.85" y="615.34" width="3.30" height="3.30" fill="#fff" stroke="#000" stroke-width="1.1"></rect>
<line x1="274.00" y1="606.42" x2="285.00" y2="606.42" stroke="#000" stroke-width="1.0"></line>
<polyline points="230.50,588.40 230.50,586.80 247.00,586.80 247.00,588.40" fill="none" stroke="#000" stroke-width="0.9" stroke-linejoin="round"></polyline>
<text x="238.75" y="585.60" font-size="6.0" text-anchor="middle" stroke="#000" stroke-width="0.18">n.s.</text>
<polyline points="263.10,589.00 263.10,586.40 279.80,586.40 279.80,589.00" fill="none" stroke="#000" stroke-width="1.1" stroke-linejoin="round"></polyline>
<text x="265.55" y="588.70" font-size="12.0" font-weight="bold" text-anchor="middle" stroke="#000" stroke-width="0.22">*</text>
<text x="271.45" y="588.70" font-size="12.0" font-weight="bold" text-anchor="middle" stroke="#000" stroke-width="0.22">*</text>
<text x="277.35" y="588.70" font-size="12.0" font-weight="bold" text-anchor="middle" stroke="#000" stroke-width="0.22">*</text>
<text x="227.50" y="563.40" font-size="7.51" stroke="#000" stroke-width="0.18" textLength="57.00" lengthAdjust="spacingAndGlyphs">(Tumor-draining)</text>
<text x="237.00" y="571.20" font-size="7.26" stroke="#000" stroke-width="0.18" textLength="36.80" lengthAdjust="spacingAndGlyphs">inguinal LN</text>
<line x1="310.60" y1="587.50" x2="310.60" y2="651.60" stroke="#000" stroke-width="1.2"></line>
<line x1="308.60" y1="651.00" x2="310.60" y2="651.00" stroke="#000" stroke-width="1.2"></line>
<text x="307.60" y="653.16" font-size="6.0" text-anchor="end" stroke="#000" stroke-width="0.18">0</text>
<line x1="308.60" y1="629.83" x2="310.60" y2="629.83" stroke="#000" stroke-width="1.2"></line>
<text x="307.60" y="631.99" font-size="6.0" text-anchor="end" stroke="#000" stroke-width="0.18">10</text>
<line x1="308.60" y1="608.67" x2="310.60" y2="608.67" stroke="#000" stroke-width="1.2"></line>
<text x="307.60" y="610.83" font-size="6.0" text-anchor="end" stroke="#000" stroke-width="0.18">20</text>
<line x1="308.60" y1="587.50" x2="310.60" y2="587.50" stroke="#000" stroke-width="1.2"></line>
<text x="307.60" y="589.66" font-size="6.0" text-anchor="end" stroke="#000" stroke-width="0.18">30</text>
<line x1="317.50" y1="657.60" x2="355.00" y2="657.60" stroke="#000" stroke-width="1.2"></line>
<rect x="324.10" y="630.81" width="4.40" height="4.40" fill="#000"></rect>
<rect x="326.10" y="633.98" width="4.40" height="4.40" fill="#000"></rect>
<rect x="323.10" y="640.33" width="4.40" height="4.40" fill="#000"></rect>
<rect x="325.10" y="642.45" width="4.40" height="4.40" fill="#000"></rect>
<rect x="322.10" y="643.51" width="4.40" height="4.40" fill="#000"></rect>
<rect x="326.10" y="644.57" width="4.40" height="4.40" fill="#000"></rect>
<rect x="324.10" y="645.62" width="4.40" height="4.40" fill="#000"></rect>
<line x1="320.80" y1="643.59" x2="331.80" y2="643.59" stroke="#000" stroke-width="1.0"></line>
<rect x="344.65" y="597.49" width="3.30" height="3.30" fill="#fff" stroke="#000" stroke-width="1.1"></rect>
<rect x="344.65" y="602.78" width="3.30" height="3.30" fill="#fff" stroke="#000" stroke-width="1.1"></rect>
<rect x="344.65" y="611.25" width="3.30" height="3.30" fill="#fff" stroke="#000" stroke-width="1.1"></rect>
<rect x="343.65" y="633.47" width="3.30" height="3.30" fill="#fff" stroke="#000" stroke-width="1.1"></rect>
<rect x="345.65" y="636.65" width="3.30" height="3.30" fill="#fff" stroke="#000" stroke-width="1.1"></rect>
<rect x="343.65" y="641.94" width="3.30" height="3.30" fill="#fff" stroke="#000" stroke-width="1.1"></rect>
<rect x="346.65" y="641.94" width="3.30" height="3.30" fill="#fff" stroke="#000" stroke-width="1.1"></rect>
<line x1="340.80" y1="625.60" x2="351.80" y2="625.60" stroke="#000" stroke-width="1.0"></line>
<polyline points="326.30,595.90 326.30,593.30 346.30,593.30 346.30,595.90" fill="none" stroke="#000" stroke-width="1.1" stroke-linejoin="round"></polyline>
<text x="336.30" y="594.50" font-size="12.0" font-weight="bold" text-anchor="middle" stroke="#000" stroke-width="0.22">*</text>
<text x="321.30" y="571.60" font-size="7.32" stroke="#000" stroke-width="0.18" textLength="21.20" lengthAdjust="spacingAndGlyphs">Tumor</text>
<circle cx="376.70" cy="603.90" r="2.30" fill="#000"></circle>
<text x="382.20" y="606.20" font-size="6.39" stroke="#000" stroke-width="0.18" textLength="30.00" lengthAdjust="spacingAndGlyphs">BL/6 naive</text>
<circle cx="376.70" cy="612.80" r="1.75" fill="#fff" stroke="#000" stroke-width="1.1"></circle>
<text x="382.20" y="615.10" font-size="6.56" stroke="#000" stroke-width="0.18" textLength="38.00" lengthAdjust="spacingAndGlyphs"><tspan font-style="italic">Cd27</tspan><tspan dy="-0.42em" font-size="75%">-/-</tspan><tspan dy="0.315em"> naive</tspan></text>
<rect x="374.40" y="619.30" width="4.60" height="4.60" fill="#000"></rect>
<text x="382.20" y="623.90" font-size="6.30" stroke="#000" stroke-width="0.18" textLength="31.20" lengthAdjust="spacingAndGlyphs">BL/6 MC57</text>
<rect x="374.95" y="628.65" width="3.50" height="3.50" fill="#fff" stroke="#000" stroke-width="1.1"></rect>
<text x="382.20" y="632.70" font-size="6.56" stroke="#000" stroke-width="0.18" textLength="39.80" lengthAdjust="spacingAndGlyphs"><tspan font-style="italic">Cd27</tspan><tspan dy="-0.42em" font-size="75%">-/-</tspan><tspan dy="0.315em"> MC57</tspan></text>
<line x1="0.60" y1="0.00" x2="0.60" y2="681.00" stroke="#555" stroke-width="1.2"></line>
<line x1="0.00" y1="0.60" x2="520.00" y2="0.60" stroke="#555" stroke-width="1.2"></line>
<line x1="519.30" y1="0.00" x2="519.30" y2="681.00" stroke="#555" stroke-width="1.35"></line>
<line x1="0.00" y1="680.30" x2="520.00" y2="680.30" stroke="#555" stroke-width="1.35"></line>
</svg></body></html>
